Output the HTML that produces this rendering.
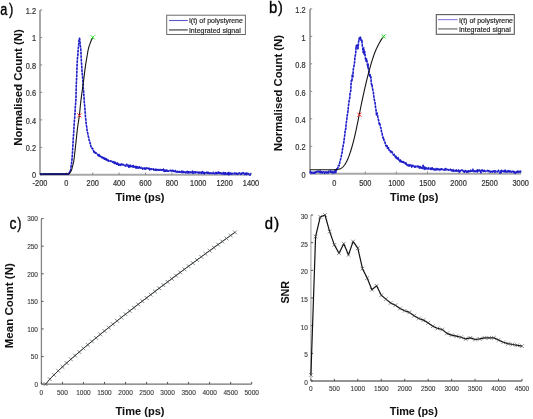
<!DOCTYPE html>
<html><head><meta charset="utf-8"><style>
html,body{margin:0;padding:0;background:#fff;}
body{width:533px;height:419px;overflow:hidden;font-family:"Liberation Sans", sans-serif;}
svg{display:block;filter:blur(0.35px);will-change:transform;}
</style></head><body>
<svg width="533" height="419" viewBox="0 0 533 419" font-family='"Liberation Sans", sans-serif'><path d="M40 10V174.8" stroke="#a8a8a8" stroke-width="2.0" fill="none"/>
<path d="M40 174.8H251" stroke="#a8a8a8" stroke-width="2.0" fill="none"/>
<path d="M40 174.8v-2.2M66.38 174.8v-2.2M92.75 174.8v-2.2M119.12 174.8v-2.2M145.5 174.8v-2.2M171.88 174.8v-2.2M198.25 174.8v-2.2M224.62 174.8v-2.2M251 174.8v-2.2M40 174.8h2.2M40 147.33h2.2M40 119.87h2.2M40 92.4h2.2M40 64.93h2.2M40 37.47h2.2M40 10h2.2" stroke="#888" stroke-width="1" fill="none"/>
<text transform="translate(40 186.1) scale(0.84 1)" text-anchor="middle" font-size="8.8" fill="#333" stroke="#333" stroke-width="0.22">-200</text>
<text transform="translate(66.38 186.1) scale(0.84 1)" text-anchor="middle" font-size="8.8" fill="#333" stroke="#333" stroke-width="0.22">0</text>
<text transform="translate(92.75 186.1) scale(0.84 1)" text-anchor="middle" font-size="8.8" fill="#333" stroke="#333" stroke-width="0.22">200</text>
<text transform="translate(119.12 186.1) scale(0.84 1)" text-anchor="middle" font-size="8.8" fill="#333" stroke="#333" stroke-width="0.22">400</text>
<text transform="translate(145.5 186.1) scale(0.84 1)" text-anchor="middle" font-size="8.8" fill="#333" stroke="#333" stroke-width="0.22">600</text>
<text transform="translate(171.88 186.1) scale(0.84 1)" text-anchor="middle" font-size="8.8" fill="#333" stroke="#333" stroke-width="0.22">800</text>
<text transform="translate(198.25 186.1) scale(0.84 1)" text-anchor="middle" font-size="8.8" fill="#333" stroke="#333" stroke-width="0.22">1000</text>
<text transform="translate(224.62 186.1) scale(0.84 1)" text-anchor="middle" font-size="8.8" fill="#333" stroke="#333" stroke-width="0.22">1200</text>
<text transform="translate(251 186.1) scale(0.84 1)" text-anchor="middle" font-size="8.8" fill="#333" stroke="#333" stroke-width="0.22">1400</text>
<text transform="translate(36 178.47) scale(0.84 1)" text-anchor="end" font-size="8.8" fill="#333" stroke="#333" stroke-width="0.22">0</text>
<text transform="translate(36 151) scale(0.84 1)" text-anchor="end" font-size="8.8" fill="#333" stroke="#333" stroke-width="0.22">0.2</text>
<text transform="translate(36 123.53) scale(0.84 1)" text-anchor="end" font-size="8.8" fill="#333" stroke="#333" stroke-width="0.22">0.4</text>
<text transform="translate(36 96.07) scale(0.84 1)" text-anchor="end" font-size="8.8" fill="#333" stroke="#333" stroke-width="0.22">0.6</text>
<text transform="translate(36 68.6) scale(0.84 1)" text-anchor="end" font-size="8.8" fill="#333" stroke="#333" stroke-width="0.22">0.8</text>
<text transform="translate(36 41.13) scale(0.84 1)" text-anchor="end" font-size="8.8" fill="#333" stroke="#333" stroke-width="0.22">1</text>
<text transform="translate(36 13.67) scale(0.84 1)" text-anchor="end" font-size="8.8" fill="#333" stroke="#333" stroke-width="0.22">1.2</text>
<path d="M40,174.2 40.26,174.2 40.53,174.19 40.79,174.19 41.05,174.18 41.32,174.18 41.58,174.17 41.85,174.16 42.11,174.16 42.37,174.15 42.64,174.15 42.9,174.15 43.16,174.14 43.43,174.14 43.69,174.13 43.96,174.13 44.22,174.12 44.48,174.12 44.75,174.11 45.01,174.1 45.27,174.1 45.54,174.09 45.8,174.09 46.07,174.08 46.33,174.08 46.59,174.08 46.86,174.07 47.12,174.07 47.38,174.06 47.65,174.06 47.91,174.05 48.18,174.05 48.44,174.04 48.7,174.04 48.97,174.03 49.23,174.03 49.49,174.02 49.76,174.02 50.02,174.01 50.29,174.01 50.55,174 50.81,174 51.08,173.99 51.34,173.98 51.61,173.98 51.87,173.97 52.13,173.97 52.4,173.97 52.66,173.96 52.92,173.96 53.19,173.95 53.45,173.95 53.72,173.94 53.98,173.94 54.24,173.93 54.51,173.93 54.77,173.92 55.03,173.92 55.3,173.91 55.56,173.91 55.83,173.9 56.09,173.9 56.35,173.89 56.62,173.88 56.88,173.88 57.14,173.88 57.41,173.88 57.67,173.87 57.94,173.86 58.2,173.85 58.46,173.85 58.73,173.85 58.99,173.84 59.25,173.84 59.52,173.83 59.78,173.83 60.05,173.82 60.31,173.82 60.57,173.81 60.84,173.81 61.1,173.8 61.36,173.8 61.63,173.79 61.89,173.79 62.16,173.78 62.42,173.78 62.68,173.78 62.95,173.77 63.21,173.76 63.47,173.76 63.74,173.76 64,173.75 64.27,173.74 64.53,173.73 64.79,173.73 65.06,173.72 65.32,173.72 65.58,173.71 65.85,173.71 66.11,173.7 66.38,173.7 66.64,173.69 66.9,173.7 67.17,173.69 67.43,173.69 67.69,173.68 67.96,173.67 68.22,173.67 68.48,173.66 68.75,173.66 69.01,173.65 69.28,172.26 69.54,173.26 69.8,171.76 70.07,171.2 70.33,169.95 70.59,170.57 70.86,168.24 71.12,166 71.39,164.8 71.65,162.38 71.91,160.12 72.18,157.49 72.44,153.75 72.7,148.03 72.97,144.35 73.23,139.2 73.5,135.54 73.76,130.6 74.02,126.95 74.29,122.41 74.55,119.59 74.81,115.28 75.08,111.71 75.34,106.85 75.61,103.21 75.87,99.48 76.13,91.81 76.4,82.64 76.66,76.62 76.92,68.37 77.19,63.52 77.45,58.52 77.72,56.33 77.98,52.53 78.24,48.87 78.51,46.52 78.77,43.2 79.03,40.61 79.3,38.58 79.56,38.3 79.83,40.6 80.09,42.77 80.35,45.76 80.62,47.44 80.88,50.8 81.15,56.31 81.41,61.2 81.67,65.85 81.94,70.16 82.2,72.46 82.46,75.98 82.73,79.26 82.99,82.68 83.25,87.31 83.52,89.79 83.78,95.15 84.05,97.45 84.31,101.77 84.57,105.01 84.84,107.72 85.1,111.21 85.37,114.85 85.63,118.85 85.89,120.26 86.16,123.2 86.42,125.38 86.68,126.83 86.95,129.68 87.21,130.5 87.47,132.62 87.74,133.04 88,134.98 88.27,136.13 88.53,136.97 88.79,138.01 89.06,139.67 89.32,140.33 89.58,141.26 89.85,141.31 90.11,143.54 90.38,143.29 90.64,145.2 90.9,146.03 91.17,147.12 91.43,147.57 91.69,147.35 91.96,147.73 92.22,148.74 92.49,148.87 92.75,148.59 93.01,149.65 93.28,150.39 93.54,150.81 93.81,151.7 94.07,150.84 94.33,152.57 94.6,151.88 94.86,152.51 95.12,152.15 95.39,152.87 95.65,153.27 95.92,152.75 96.18,153.39 96.44,153.47 96.71,153.62 96.97,153.93 97.23,154.2 97.5,154.63 97.76,154.48 98.03,155.48 98.29,154.75 98.55,155.48 98.82,154.51 99.08,154.63 99.34,156.27 99.61,155.47 99.87,155.87 100.13,156.63 100.4,156.1 100.66,156.75 100.93,157.33 101.19,156.74 101.45,156.83 101.72,156.93 101.98,157.67 102.25,156.84 102.51,156.94 102.77,158.07 103.04,158.1 103.3,158.03 103.56,158.42 103.83,157.47 104.09,158.35 104.36,159.21 104.62,159.37 104.88,159.31 105.15,158.31 105.41,159.49 105.67,159.34 105.94,159.36 106.2,159.89 106.47,158.89 106.73,160.25 106.99,159.72 107.26,160.08 107.52,159.97 107.78,160.78 108.05,159.51 108.31,160.47 108.58,160.54 108.84,161.17 109.1,161.23 109.37,160.76 109.63,160.56 109.89,160.8 110.16,160.73 110.42,161.06 110.69,161.38 110.95,160.94 111.21,161.13 111.48,161.69 111.74,161.5 112,161.4 112.27,161.93 112.53,162.38 112.79,161.93 113.06,161.44 113.32,162.49 113.59,162.52 113.85,162.6 114.11,162 114.38,163.51 114.64,162.56 114.91,162.25 115.17,163.33 115.43,162.39 115.7,162.9 115.96,163.56 116.22,163.31 116.49,164.26 116.75,163.9 117.02,162.8 117.28,164.18 117.54,162.93 117.81,163.97 118.07,163.55 118.33,164.02 118.6,165.23 118.86,164.56 119.12,164.22 119.39,164.83 119.65,165 119.92,164.33 120.18,164.87 120.44,165.37 120.71,164.86 120.97,164.16 121.23,164.79 121.5,164.22 121.76,163.96 122.03,164.67 122.29,165.25 122.55,165.36 122.82,164.83 123.08,164.38 123.34,164.77 123.61,164.76 123.87,165.34 124.14,164.99 124.4,165.33 124.66,165.23 124.93,165.73 125.19,165.91 125.46,165.49 125.72,165.91 125.98,165.91 126.25,165.14 126.51,165.51 126.77,164.17 127.04,165.2 127.3,166.05 127.56,165.36 127.83,165.62 128.09,166.12 128.36,165.3 128.62,166.2 128.88,167.29 129.15,165.54 129.41,166.33 129.68,165.38 129.94,166.37 130.2,166.55 130.47,165.31 130.73,166.64 130.99,166.11 131.26,165.61 131.52,166.33 131.78,166.46 132.05,166.39 132.31,166 132.58,166.9 132.84,166.26 133.1,166.34 133.37,165.52 133.63,166.86 133.89,167.26 134.16,166.52 134.42,167.02 134.69,166.69 134.95,166.77 135.21,166.38 135.48,167.28 135.74,167.07 136,168.3 136.27,167.59 136.53,166.47 136.8,167.52 137.06,167.56 137.32,167.84 137.59,167 137.85,167.26 138.12,168.01 138.38,167.19 138.64,167.4 138.91,167.17 139.17,167.9 139.43,166.83 139.7,167.49 139.96,167.81 140.22,168.01 140.49,167.97 140.75,167.5 141.02,168.1 141.28,167.48 141.54,167.73 141.81,167.41 142.07,167.71 142.33,168.18 142.6,169.12 142.86,168.13 143.13,167.98 143.39,168.33 143.65,168.16 143.92,168.66 144.18,168.62 144.44,168.91 144.71,167.82 144.97,168.43 145.24,168.78 145.5,169.21 145.76,168.68 146.03,167.94 146.29,168.47 146.56,169.06 146.82,168.04 147.08,168.05 147.35,168.3 147.61,168.41 147.87,168.29 148.14,168.61 148.4,168.54 148.67,169.29 148.93,168.27 149.19,168.89 149.46,168.04 149.72,169.97 149.98,168.68 150.25,168.59 150.51,169.28 150.78,168.94 151.04,168.84 151.3,168.93 151.57,169.46 151.83,169.3 152.09,168.75 152.36,168.7 152.62,169.29 152.88,169.34 153.15,169.25 153.41,168.87 153.68,169.94 153.94,170.11 154.2,169.43 154.47,170.02 154.73,169.83 155,169.54 155.26,169.35 155.52,170.09 155.79,169.23 156.05,170.45 156.31,169.38 156.58,170.4 156.84,170.31 157.11,169.41 157.37,169.89 157.63,170.1 157.9,169.96 158.16,169.6 158.42,169.9 158.69,169.91 158.95,169.4 159.21,170.27 159.48,170.15 159.74,170.21 160.01,169.42 160.27,169.54 160.53,169.45 160.8,170.12 161.06,170.21 161.32,169.72 161.59,170.33 161.85,169.77 162.12,169.86 162.38,170.56 162.64,170.32 162.91,170.38 163.17,169.5 163.44,169.11 163.7,170.4 163.96,170.37 164.23,171.46 164.49,170.29 164.75,170.45 165.02,171 165.28,170.14 165.54,171.28 165.81,170.65 166.07,170.49 166.34,171.18 166.6,170.19 166.86,170.09 167.13,171.28 167.39,171.35 167.66,170.42 167.92,170.79 168.18,171.37 168.45,170.96 168.71,170.89 168.97,170.92 169.24,170.47 169.5,170.71 169.76,170.08 170.03,170.3 170.29,170.63 170.56,170.45 170.82,170.38 171.08,170.73 171.35,171.68 171.61,170.67 171.88,171.05 172.14,170.32 172.4,171.09 172.67,170.92 172.93,171.04 173.19,170.43 173.46,171.18 173.72,171.42 173.99,171.17 174.25,171.56 174.51,171.28 174.78,171.39 175.04,171.25 175.3,170.51 175.57,171.65 175.83,171.46 176.09,171.58 176.36,171.2 176.62,172.13 176.89,171.91 177.15,171.62 177.41,171.36 177.68,171.66 177.94,171.9 178.21,172.1 178.47,171.5 178.73,171.09 179,171.63 179.26,171.71 179.52,171.62 179.79,172.33 180.05,172.05 180.31,172.02 180.58,171.76 180.84,171.92 181.11,172.51 181.37,171.39 181.63,171.13 181.9,172.06 182.16,171.76 182.43,171.84 182.69,171.61 182.95,172.71 183.22,171.24 183.48,172.24 183.74,171.4 184.01,171.98 184.27,172.22 184.54,172.12 184.8,171.64 185.06,172.49 185.33,172.27 185.59,172.32 185.85,172.93 186.12,171.5 186.38,171.88 186.64,172.16 186.91,171.6 187.17,172.61 187.44,172.21 187.7,171.36 187.96,171.73 188.23,173.25 188.49,173.8 188.75,172.71 189.02,171.73 189.28,172.47 189.55,172.36 189.81,171.97 190.07,172.7 190.34,172.19 190.6,171.92 190.86,172.08 191.13,172.12 191.39,172.62 191.66,172.1 191.92,172.56 192.18,171.72 192.45,171.12 192.71,172.71 192.97,173.42 193.24,172.6 193.5,172.23 193.77,171.92 194.03,171.91 194.29,172.81 194.56,172.82 194.82,171.84 195.09,172.98 195.35,171.94 195.61,172.58 195.88,172.12 196.14,172.16 196.4,172.14 196.67,172.13 196.93,173.03 197.19,172.41 197.46,172.57 197.72,172.43 197.99,172 198.25,172.72 198.51,172.95 198.78,172.97 199.04,172.78 199.31,172.28 199.57,173.05 199.83,172.12 200.1,172.54 200.36,172.78 200.62,173.32 200.89,172.57 201.15,172.37 201.41,173.56 201.68,172.16 201.94,171.94 202.21,172.57 202.47,172.51 202.73,171.61 203,172.18 203.26,173.21 203.53,172.8 203.79,172.88 204.05,172.89 204.32,173.97 204.58,172.48 204.84,173.15 205.11,172.77 205.37,172.92 205.64,172.46 205.9,173.03 206.16,173.28 206.43,172.66 206.69,172.25 206.95,173.08 207.22,172.27 207.48,172.82 207.75,173.22 208.01,172.25 208.27,173.39 208.54,172.51 208.8,173.26 209.06,172.81 209.33,173.63 209.59,173.45 209.86,172.54 210.12,172.96 210.38,173.04 210.65,173.28 210.91,172.86 211.17,173.76 211.44,173.63 211.7,173.19 211.96,173.51 212.23,173.46 212.49,173.16 212.76,173.2 213.02,173.24 213.28,172.34 213.55,172.66 213.81,172.55 214.07,173.16 214.34,173.4 214.6,173.86 214.87,173.34 215.13,174.18 215.39,173.45 215.66,172.81 215.92,172.4 216.19,172.73 216.45,173.61 216.71,172.96 216.98,173.59 217.24,172.83 217.5,173.28 217.77,172.82 218.03,171.99 218.29,172.78 218.56,172.11 218.82,173.15 219.09,173.4 219.35,172.6 219.61,172.42 219.88,173.52 220.14,173.21 220.41,173.94 220.67,173.35 220.93,172.84 221.2,173.31 221.46,173.55 221.72,173.95 221.99,173.1 222.25,172.9 222.51,173 222.78,173.18 223.04,173.92 223.31,172.47 223.57,173.34 223.83,173.39 224.1,172.97 224.36,174.37 224.62,173.37 224.89,173.4 225.15,173.16 225.42,172.7 225.68,173.12 225.94,174.24 226.21,173.53 226.47,173.27 226.74,173.3 227,173.98 227.26,174.17 227.53,173.12 227.79,173.22 228.05,173.41 228.32,174.22 228.58,172.55 228.84,174.79 229.11,173.58 229.37,172.41 229.64,173.49 229.9,173.31 230.16,173.99 230.43,172.78 230.69,174.05 230.96,173.32 231.22,173.38 231.48,173.96 231.75,173.03 232.01,174.14 232.27,173.79 232.54,173.48 232.8,173.67 233.06,173.25 233.33,173.04 233.59,173.62 233.86,173.75 234.12,173.75 234.38,173.68 234.65,173.11 234.91,173.61 235.18,173.32 235.44,173.57 235.7,173.93 235.97,173.12 236.23,174.04 236.49,173.54 236.76,172.83 237.02,174.07 237.29,173.57 237.55,174.31 237.81,173.8 238.08,174.27 238.34,173.74 238.6,173.83 238.87,173.52 239.13,172.82 239.39,173.45 239.66,173.27 239.92,173.62 240.19,173.72 240.45,174.01 240.71,174.47 240.98,173.58 241.24,172.84 241.5,173.39 241.77,173.88 242.03,172.84 242.3,173.84 242.56,173.93 242.82,174.22 243.09,174.11 243.35,173.77 243.61,172.71 243.88,173.77 244.14,174.17 244.41,173.97 244.67,173.78 244.93,174.5 245.2,173.63 245.46,173.36 245.72,173.55 245.99,173.42 246.25,174.33 246.52,174.53 246.78,173.1 247.04,173.2 247.31,174.46 247.57,173.63 247.84,173.73 248.1,173.48 248.36,173.64 248.63,173.99 248.89,173.66 249.15,173.68 249.42,173.78 249.68,174.65 249.94,175.2 250.21,174.15 250.47,174.57 250.74,173.67 251,173.45" stroke="#8c8ce6" stroke-width="1.3" fill="none" stroke-linejoin="round" />
<path d="M40,174.2 40.26,174.2 40.53,174.19 40.79,174.19 41.05,174.18 41.32,174.18 41.58,174.17 41.85,174.16 42.11,174.16 42.37,174.15 42.64,174.15 42.9,174.15 43.16,174.14 43.43,174.14 43.69,174.13 43.96,174.13 44.22,174.12 44.48,174.12 44.75,174.11 45.01,174.1 45.27,174.1 45.54,174.09 45.8,174.09 46.07,174.08 46.33,174.08 46.59,174.08 46.86,174.07 47.12,174.07 47.38,174.06 47.65,174.06 47.91,174.05 48.18,174.05 48.44,174.04 48.7,174.04 48.97,174.03 49.23,174.03 49.49,174.02 49.76,174.02 50.02,174.01 50.29,174.01 50.55,174 50.81,174 51.08,173.99 51.34,173.98 51.61,173.98 51.87,173.97 52.13,173.97 52.4,173.97 52.66,173.96 52.92,173.96 53.19,173.95 53.45,173.95 53.72,173.94 53.98,173.94 54.24,173.93 54.51,173.93 54.77,173.92 55.03,173.92 55.3,173.91 55.56,173.91 55.83,173.9 56.09,173.9 56.35,173.89 56.62,173.88 56.88,173.88 57.14,173.88 57.41,173.88 57.67,173.87 57.94,173.86 58.2,173.85 58.46,173.85 58.73,173.85 58.99,173.84 59.25,173.84 59.52,173.83 59.78,173.83 60.05,173.82 60.31,173.82 60.57,173.81 60.84,173.81 61.1,173.8 61.36,173.8 61.63,173.79 61.89,173.79 62.16,173.78 62.42,173.78 62.68,173.78 62.95,173.77 63.21,173.76 63.47,173.76 63.74,173.76 64,173.75 64.27,173.74 64.53,173.73 64.79,173.73 65.06,173.72 65.32,173.72 65.58,173.71 65.85,173.71 66.11,173.7 66.38,173.7 66.64,173.69 66.9,173.7 67.17,173.69 67.43,173.69 67.69,173.68 67.96,173.67 68.22,173.67 68.48,173.66 68.75,173.66 69.01,173.65 69.28,172.26 69.54,173.26 69.8,171.76 70.07,171.2 70.33,169.95 70.59,170.57 70.86,168.24 71.12,166 71.39,164.8 71.65,162.38 71.91,160.12 72.18,157.49 72.44,153.75 72.7,148.03 72.97,144.35 73.23,139.2 73.5,135.54 73.76,130.6 74.02,126.95 74.29,122.41 74.55,119.59 74.81,115.28 75.08,111.71 75.34,106.85 75.61,103.21 75.87,99.48 76.13,91.81 76.4,82.64 76.66,76.62 76.92,68.37 77.19,63.52 77.45,58.52 77.72,56.33 77.98,52.53 78.24,48.87 78.51,46.52 78.77,43.2 79.03,40.61 79.3,38.58 79.56,38.3 79.83,40.6 80.09,42.77 80.35,45.76 80.62,47.44 80.88,50.8 81.15,56.31 81.41,61.2 81.67,65.85 81.94,70.16 82.2,72.46 82.46,75.98 82.73,79.26 82.99,82.68 83.25,87.31 83.52,89.79 83.78,95.15 84.05,97.45 84.31,101.77 84.57,105.01 84.84,107.72 85.1,111.21 85.37,114.85 85.63,118.85 85.89,120.26 86.16,123.2 86.42,125.38 86.68,126.83 86.95,129.68 87.21,130.5 87.47,132.62 87.74,133.04 88,134.98 88.27,136.13 88.53,136.97 88.79,138.01 89.06,139.67 89.32,140.33 89.58,141.26 89.85,141.31 90.11,143.54 90.38,143.29 90.64,145.2 90.9,146.03 91.17,147.12 91.43,147.57 91.69,147.35 91.96,147.73 92.22,148.74 92.49,148.87 92.75,148.59 93.01,149.65 93.28,150.39 93.54,150.81 93.81,151.7 94.07,150.84 94.33,152.57 94.6,151.88 94.86,152.51 95.12,152.15 95.39,152.87 95.65,153.27 95.92,152.75 96.18,153.39 96.44,153.47 96.71,153.62 96.97,153.93 97.23,154.2 97.5,154.63 97.76,154.48 98.03,155.48 98.29,154.75 98.55,155.48 98.82,154.51 99.08,154.63 99.34,156.27 99.61,155.47 99.87,155.87 100.13,156.63 100.4,156.1 100.66,156.75 100.93,157.33 101.19,156.74 101.45,156.83 101.72,156.93 101.98,157.67 102.25,156.84 102.51,156.94 102.77,158.07 103.04,158.1 103.3,158.03 103.56,158.42 103.83,157.47 104.09,158.35 104.36,159.21 104.62,159.37 104.88,159.31 105.15,158.31 105.41,159.49 105.67,159.34 105.94,159.36 106.2,159.89 106.47,158.89 106.73,160.25 106.99,159.72 107.26,160.08 107.52,159.97 107.78,160.78 108.05,159.51 108.31,160.47 108.58,160.54 108.84,161.17 109.1,161.23 109.37,160.76 109.63,160.56 109.89,160.8 110.16,160.73 110.42,161.06 110.69,161.38 110.95,160.94 111.21,161.13 111.48,161.69 111.74,161.5 112,161.4 112.27,161.93 112.53,162.38 112.79,161.93 113.06,161.44 113.32,162.49 113.59,162.52 113.85,162.6 114.11,162 114.38,163.51 114.64,162.56 114.91,162.25 115.17,163.33 115.43,162.39 115.7,162.9 115.96,163.56 116.22,163.31 116.49,164.26 116.75,163.9 117.02,162.8 117.28,164.18 117.54,162.93 117.81,163.97 118.07,163.55 118.33,164.02 118.6,165.23 118.86,164.56 119.12,164.22 119.39,164.83 119.65,165 119.92,164.33 120.18,164.87 120.44,165.37 120.71,164.86 120.97,164.16 121.23,164.79 121.5,164.22 121.76,163.96 122.03,164.67 122.29,165.25 122.55,165.36 122.82,164.83 123.08,164.38 123.34,164.77 123.61,164.76 123.87,165.34 124.14,164.99 124.4,165.33 124.66,165.23 124.93,165.73 125.19,165.91 125.46,165.49 125.72,165.91 125.98,165.91 126.25,165.14 126.51,165.51 126.77,164.17 127.04,165.2 127.3,166.05 127.56,165.36 127.83,165.62 128.09,166.12 128.36,165.3 128.62,166.2 128.88,167.29 129.15,165.54 129.41,166.33 129.68,165.38 129.94,166.37 130.2,166.55 130.47,165.31 130.73,166.64 130.99,166.11 131.26,165.61 131.52,166.33 131.78,166.46 132.05,166.39 132.31,166 132.58,166.9 132.84,166.26 133.1,166.34 133.37,165.52 133.63,166.86 133.89,167.26 134.16,166.52 134.42,167.02 134.69,166.69 134.95,166.77 135.21,166.38 135.48,167.28 135.74,167.07 136,168.3 136.27,167.59 136.53,166.47 136.8,167.52 137.06,167.56 137.32,167.84 137.59,167 137.85,167.26 138.12,168.01 138.38,167.19 138.64,167.4 138.91,167.17 139.17,167.9 139.43,166.83 139.7,167.49 139.96,167.81 140.22,168.01 140.49,167.97 140.75,167.5 141.02,168.1 141.28,167.48 141.54,167.73 141.81,167.41 142.07,167.71 142.33,168.18 142.6,169.12 142.86,168.13 143.13,167.98 143.39,168.33 143.65,168.16 143.92,168.66 144.18,168.62 144.44,168.91 144.71,167.82 144.97,168.43 145.24,168.78 145.5,169.21 145.76,168.68 146.03,167.94 146.29,168.47 146.56,169.06 146.82,168.04 147.08,168.05 147.35,168.3 147.61,168.41 147.87,168.29 148.14,168.61 148.4,168.54 148.67,169.29 148.93,168.27 149.19,168.89 149.46,168.04 149.72,169.97 149.98,168.68 150.25,168.59 150.51,169.28 150.78,168.94 151.04,168.84 151.3,168.93 151.57,169.46 151.83,169.3 152.09,168.75 152.36,168.7 152.62,169.29 152.88,169.34 153.15,169.25 153.41,168.87 153.68,169.94 153.94,170.11 154.2,169.43 154.47,170.02 154.73,169.83 155,169.54 155.26,169.35 155.52,170.09 155.79,169.23 156.05,170.45 156.31,169.38 156.58,170.4 156.84,170.31 157.11,169.41 157.37,169.89 157.63,170.1 157.9,169.96 158.16,169.6 158.42,169.9 158.69,169.91 158.95,169.4 159.21,170.27 159.48,170.15 159.74,170.21 160.01,169.42 160.27,169.54 160.53,169.45 160.8,170.12 161.06,170.21 161.32,169.72 161.59,170.33 161.85,169.77 162.12,169.86 162.38,170.56 162.64,170.32 162.91,170.38 163.17,169.5 163.44,169.11 163.7,170.4 163.96,170.37 164.23,171.46 164.49,170.29 164.75,170.45 165.02,171 165.28,170.14 165.54,171.28 165.81,170.65 166.07,170.49 166.34,171.18 166.6,170.19 166.86,170.09 167.13,171.28 167.39,171.35 167.66,170.42 167.92,170.79 168.18,171.37 168.45,170.96 168.71,170.89 168.97,170.92 169.24,170.47 169.5,170.71 169.76,170.08 170.03,170.3 170.29,170.63 170.56,170.45 170.82,170.38 171.08,170.73 171.35,171.68 171.61,170.67 171.88,171.05 172.14,170.32 172.4,171.09 172.67,170.92 172.93,171.04 173.19,170.43 173.46,171.18 173.72,171.42 173.99,171.17 174.25,171.56 174.51,171.28 174.78,171.39 175.04,171.25 175.3,170.51 175.57,171.65 175.83,171.46 176.09,171.58 176.36,171.2 176.62,172.13 176.89,171.91 177.15,171.62 177.41,171.36 177.68,171.66 177.94,171.9 178.21,172.1 178.47,171.5 178.73,171.09 179,171.63 179.26,171.71 179.52,171.62 179.79,172.33 180.05,172.05 180.31,172.02 180.58,171.76 180.84,171.92 181.11,172.51 181.37,171.39 181.63,171.13 181.9,172.06 182.16,171.76 182.43,171.84 182.69,171.61 182.95,172.71 183.22,171.24 183.48,172.24 183.74,171.4 184.01,171.98 184.27,172.22 184.54,172.12 184.8,171.64 185.06,172.49 185.33,172.27 185.59,172.32 185.85,172.93 186.12,171.5 186.38,171.88 186.64,172.16 186.91,171.6 187.17,172.61 187.44,172.21 187.7,171.36 187.96,171.73 188.23,173.25 188.49,173.8 188.75,172.71 189.02,171.73 189.28,172.47 189.55,172.36 189.81,171.97 190.07,172.7 190.34,172.19 190.6,171.92 190.86,172.08 191.13,172.12 191.39,172.62 191.66,172.1 191.92,172.56 192.18,171.72 192.45,171.12 192.71,172.71 192.97,173.42 193.24,172.6 193.5,172.23 193.77,171.92 194.03,171.91 194.29,172.81 194.56,172.82 194.82,171.84 195.09,172.98 195.35,171.94 195.61,172.58 195.88,172.12 196.14,172.16 196.4,172.14 196.67,172.13 196.93,173.03 197.19,172.41 197.46,172.57 197.72,172.43 197.99,172 198.25,172.72 198.51,172.95 198.78,172.97 199.04,172.78 199.31,172.28 199.57,173.05 199.83,172.12 200.1,172.54 200.36,172.78 200.62,173.32 200.89,172.57 201.15,172.37 201.41,173.56 201.68,172.16 201.94,171.94 202.21,172.57 202.47,172.51 202.73,171.61 203,172.18 203.26,173.21 203.53,172.8 203.79,172.88 204.05,172.89 204.32,173.97 204.58,172.48 204.84,173.15 205.11,172.77 205.37,172.92 205.64,172.46 205.9,173.03 206.16,173.28 206.43,172.66 206.69,172.25 206.95,173.08 207.22,172.27 207.48,172.82 207.75,173.22 208.01,172.25 208.27,173.39 208.54,172.51 208.8,173.26 209.06,172.81 209.33,173.63 209.59,173.45 209.86,172.54 210.12,172.96 210.38,173.04 210.65,173.28 210.91,172.86 211.17,173.76 211.44,173.63 211.7,173.19 211.96,173.51 212.23,173.46 212.49,173.16 212.76,173.2 213.02,173.24 213.28,172.34 213.55,172.66 213.81,172.55 214.07,173.16 214.34,173.4 214.6,173.86 214.87,173.34 215.13,174.18 215.39,173.45 215.66,172.81 215.92,172.4 216.19,172.73 216.45,173.61 216.71,172.96 216.98,173.59 217.24,172.83 217.5,173.28 217.77,172.82 218.03,171.99 218.29,172.78 218.56,172.11 218.82,173.15 219.09,173.4 219.35,172.6 219.61,172.42 219.88,173.52 220.14,173.21 220.41,173.94 220.67,173.35 220.93,172.84 221.2,173.31 221.46,173.55 221.72,173.95 221.99,173.1 222.25,172.9 222.51,173 222.78,173.18 223.04,173.92 223.31,172.47 223.57,173.34 223.83,173.39 224.1,172.97 224.36,174.37 224.62,173.37 224.89,173.4 225.15,173.16 225.42,172.7 225.68,173.12 225.94,174.24 226.21,173.53 226.47,173.27 226.74,173.3 227,173.98 227.26,174.17 227.53,173.12 227.79,173.22 228.05,173.41 228.32,174.22 228.58,172.55 228.84,174.79 229.11,173.58 229.37,172.41 229.64,173.49 229.9,173.31 230.16,173.99 230.43,172.78 230.69,174.05 230.96,173.32 231.22,173.38 231.48,173.96 231.75,173.03 232.01,174.14 232.27,173.79 232.54,173.48 232.8,173.67 233.06,173.25 233.33,173.04 233.59,173.62 233.86,173.75 234.12,173.75 234.38,173.68 234.65,173.11 234.91,173.61 235.18,173.32 235.44,173.57 235.7,173.93 235.97,173.12 236.23,174.04 236.49,173.54 236.76,172.83 237.02,174.07 237.29,173.57 237.55,174.31 237.81,173.8 238.08,174.27 238.34,173.74 238.6,173.83 238.87,173.52 239.13,172.82 239.39,173.45 239.66,173.27 239.92,173.62 240.19,173.72 240.45,174.01 240.71,174.47 240.98,173.58 241.24,172.84 241.5,173.39 241.77,173.88 242.03,172.84 242.3,173.84 242.56,173.93 242.82,174.22 243.09,174.11 243.35,173.77 243.61,172.71 243.88,173.77 244.14,174.17 244.41,173.97 244.67,173.78 244.93,174.5 245.2,173.63 245.46,173.36 245.72,173.55 245.99,173.42 246.25,174.33 246.52,174.53 246.78,173.1 247.04,173.2 247.31,174.46 247.57,173.63 247.84,173.73 248.1,173.48 248.36,173.64 248.63,173.99 248.89,173.66 249.15,173.68 249.42,173.78 249.68,174.65 249.94,175.2 250.21,174.15 250.47,174.57 250.74,173.67 251,173.45" stroke="#1c1cc8" stroke-width="1.5" fill="none" stroke-linejoin="round" stroke-dasharray="2.4 1.1"/>
<path d="M40,174.2 40.26,174.2 40.53,174.2 40.79,174.19 41.05,174.19 41.32,174.19 41.58,174.19 41.85,174.18 42.11,174.18 42.37,174.18 42.64,174.18 42.9,174.17 43.16,174.17 43.43,174.17 43.69,174.17 43.96,174.16 44.22,174.16 44.48,174.16 44.75,174.16 45.01,174.15 45.27,174.15 45.54,174.15 45.8,174.15 46.07,174.14 46.33,174.14 46.59,174.14 46.86,174.14 47.12,174.13 47.38,174.13 47.65,174.13 47.91,174.13 48.18,174.12 48.44,174.12 48.7,174.12 48.97,174.12 49.23,174.11 49.49,174.11 49.76,174.11 50.02,174.11 50.29,174.1 50.55,174.1 50.81,174.1 51.08,174.1 51.34,174.09 51.61,174.09 51.87,174.09 52.13,174.09 52.4,174.08 52.66,174.08 52.92,174.08 53.19,174.08 53.45,174.07 53.72,174.07 53.98,174.07 54.24,174.07 54.51,174.06 54.77,174.06 55.03,174.06 55.3,174.06 55.56,174.05 55.83,174.05 56.09,174.05 56.35,174.05 56.62,174.04 56.88,174.04 57.14,174.04 57.41,174.04 57.67,174.03 57.94,174.03 58.2,174.03 58.46,174.03 58.73,174.02 58.99,174.02 59.25,174.02 59.52,174.02 59.78,174.01 60.05,174.01 60.31,174.01 60.57,174.01 60.84,174 61.1,174 61.36,174 61.63,174 61.89,173.99 62.16,173.99 62.42,173.99 62.68,173.99 62.95,173.98 63.21,173.98 63.47,173.98 63.74,173.98 64,173.97 64.27,173.97 64.53,173.97 64.79,173.97 65.06,173.96 65.32,173.96 65.58,173.96 65.85,173.96 66.11,173.95 66.38,173.95 66.64,173.95 66.9,173.95 67.17,173.94 67.43,173.94 67.69,173.94 67.96,173.94 68.22,173.93 68.48,173.93 68.75,173.86 69.01,173.72 69.28,173.51 69.54,173.23 69.8,172.88 70.07,172.53 70.33,172.18 70.59,171.83 70.86,171.48 71.12,171 71.39,170.38 71.65,169.63 71.91,168.74 72.18,167.72 72.44,166.7 72.7,165.69 72.97,164.67 73.23,163.65 73.5,162.38 73.76,160.86 74.02,159.09 74.29,157.06 74.55,154.79 74.81,152.52 75.08,150.22 75.34,147.88 75.61,145.49 75.87,143.06 76.13,140.58 76.4,138.09 76.66,135.59 76.92,133.09 77.19,130.75 77.45,128.57 77.72,126.55 77.98,124.69 78.24,123 78.51,121.3 78.77,119.6 79.03,117.8 79.3,115.79 79.56,113.58 79.83,111.15 80.09,108.52 80.35,105.78 80.62,103.22 80.88,100.83 81.15,98.61 81.41,96.57 81.67,94.69 81.94,92.82 82.2,90.95 82.46,89.08 82.73,87.2 82.99,85.3 83.25,83.33 83.52,81.3 83.78,79.21 84.05,77.05 84.31,74.86 84.57,72.67 84.84,70.48 85.1,68.42 85.37,66.49 85.63,64.68 85.89,63.01 86.16,61.46 86.42,59.91 86.68,58.37 86.95,56.82 87.21,55.27 87.47,53.73 87.74,52.18 88,50.71 88.27,49.4 88.53,48.25 88.79,47.25 89.06,46.41 89.32,45.65 89.58,44.89 89.85,44.13 90.11,43.37 90.38,42.63 90.64,41.94 90.9,41.28 91.17,40.67 91.43,40.1 91.69,39.56 91.96,39.01 92.22,38.46 92.49,38.02 92.75,37.7 93.01,37.48" stroke="#151515" stroke-width="1.1" fill="none" stroke-linejoin="round" />
<path d="M40,174.2 69.01,174.2" stroke="#141470" stroke-width="1.7" fill="none" stroke-linejoin="round" />
<path d="M77.43 113.36L81.43 117.36M77.43 117.36L81.43 113.36" stroke="#ff2020" stroke-width="1.0"/>
<path d="M90.75 35.37L94.75 39.37M90.75 39.37L94.75 35.37" stroke="#20e020" stroke-width="1.0"/>
<rect x="166.7" y="15.2" width="78.7" height="19.3" fill="#fff" stroke="#6a6a6a" stroke-width="1"/>
<path d="M169 20.5H187.8" stroke="#5e56c8" stroke-width="1.1"/>
<path d="M169 29.9H187.8" stroke="#6a6a6a" stroke-width="1.5"/>
<text x="188.9" y="23.3" font-size="7" font-weight="normal" text-anchor="start" fill="#1a1a1a" stroke="#1a1a1a" stroke-width="0.15" textLength="54" lengthAdjust="spacingAndGlyphs">I(t) of polystyrene</text>
<text x="188.9" y="32.8" font-size="7" font-weight="normal" text-anchor="start" fill="#1a1a1a" stroke="#1a1a1a" stroke-width="0.15" textLength="51.8" lengthAdjust="spacingAndGlyphs">Integrated signal</text>
<path d="M310 8.9V173.8" stroke="#a8a8a8" stroke-width="2.0" fill="none"/>
<path d="M310 173.8H520.7" stroke="#a8a8a8" stroke-width="2.0" fill="none"/>
<path d="M334.24 173.8v-2.2M365.32 173.8v-2.2M396.39 173.8v-2.2M427.47 173.8v-2.2M458.55 173.8v-2.2M489.62 173.8v-2.2M520.7 173.8v-2.2M310 173.8h2.2M310 146.32h2.2M310 118.83h2.2M310 91.35h2.2M310 63.87h2.2M310 36.38h2.2M310 8.9h2.2" stroke="#888" stroke-width="1" fill="none"/>
<text transform="translate(334.24 185.6) scale(0.84 1)" text-anchor="middle" font-size="8.8" fill="#333" stroke="#333" stroke-width="0.22">0</text>
<text transform="translate(365.32 185.6) scale(0.84 1)" text-anchor="middle" font-size="8.8" fill="#333" stroke="#333" stroke-width="0.22">500</text>
<text transform="translate(396.39 185.6) scale(0.84 1)" text-anchor="middle" font-size="8.8" fill="#333" stroke="#333" stroke-width="0.22">1000</text>
<text transform="translate(427.47 185.6) scale(0.84 1)" text-anchor="middle" font-size="8.8" fill="#333" stroke="#333" stroke-width="0.22">1500</text>
<text transform="translate(458.55 185.6) scale(0.84 1)" text-anchor="middle" font-size="8.8" fill="#333" stroke="#333" stroke-width="0.22">2000</text>
<text transform="translate(489.62 185.6) scale(0.84 1)" text-anchor="middle" font-size="8.8" fill="#333" stroke="#333" stroke-width="0.22">2500</text>
<text transform="translate(520.7 185.6) scale(0.84 1)" text-anchor="middle" font-size="8.8" fill="#333" stroke="#333" stroke-width="0.22">3000</text>
<text transform="translate(305.6 177.97) scale(0.84 1)" text-anchor="end" font-size="8.8" fill="#333" stroke="#333" stroke-width="0.22">0</text>
<text transform="translate(305.6 150.48) scale(0.84 1)" text-anchor="end" font-size="8.8" fill="#333" stroke="#333" stroke-width="0.22">0.2</text>
<text transform="translate(305.6 123) scale(0.84 1)" text-anchor="end" font-size="8.8" fill="#333" stroke="#333" stroke-width="0.22">0.4</text>
<text transform="translate(305.6 95.52) scale(0.84 1)" text-anchor="end" font-size="8.8" fill="#333" stroke="#333" stroke-width="0.22">0.6</text>
<text transform="translate(305.6 68.03) scale(0.84 1)" text-anchor="end" font-size="8.8" fill="#333" stroke="#333" stroke-width="0.22">0.8</text>
<text transform="translate(305.6 40.55) scale(0.84 1)" text-anchor="end" font-size="8.8" fill="#333" stroke="#333" stroke-width="0.22">1</text>
<text transform="translate(305.6 13.07) scale(0.84 1)" text-anchor="end" font-size="8.8" fill="#333" stroke="#333" stroke-width="0.22">1.2</text>
<path d="M310,171.42 310.31,171.26 310.62,173.85 310.93,172.75 311.24,172.5 311.55,172.93 311.86,172.17 312.18,172.26 312.49,172.61 312.8,172.3 313.11,173.27 313.42,172.88 313.73,172.84 314.04,171.73 314.35,173.29 314.66,172.42 314.97,171.81 315.28,172.32 315.59,171.78 315.9,172.69 316.22,172.02 316.53,171.73 316.84,170.91 317.15,171.84 317.46,171.4 317.77,172.28 318.08,172.23 318.39,171.32 318.7,171.92 319.01,171.41 319.32,171.84 319.63,170.96 319.94,170.81 320.26,172.8 320.57,171.13 320.88,172.01 321.19,171.98 321.5,172.34 321.81,171.83 322.12,172.97 322.43,172.72 322.74,172.75 323.05,172.1 323.36,171.7 323.67,171.81 323.98,172.05 324.3,172.64 324.61,173.36 324.92,172.02 325.23,172.18 325.54,172.05 325.85,171.39 326.16,172.39 326.47,172.4 326.78,173.71 327.09,171.93 327.4,172.3 327.71,172.73 328.02,172.04 328.34,172.92 328.65,172.6 328.96,171.06 329.27,171.8 329.58,171.7 329.89,171.81 330.2,171.87 330.51,172.15 330.82,170.85 331.13,172.32 331.44,171.82 331.75,172.41 332.06,172.49 332.38,173.79 332.69,173.46 333,171.32 333.31,171.36 333.62,172.54 333.93,172.29 334.24,171.9 334.55,172.61 334.86,170.63 335.17,172.09 335.48,171.61 335.79,172.61 336.1,169.69 336.42,170.31 336.73,168.82 337.04,169.89 337.35,168.52 337.66,168.16 337.97,167.55 338.28,165.92 338.59,165.29 338.9,165.26 339.21,165.78 339.52,163.5 339.83,161.82 340.14,161 340.46,159.68 340.77,158.33 341.08,157.66 341.39,155.76 341.7,153.43 342.01,153.24 342.32,150.56 342.63,148.23 342.94,147.84 343.25,144.8 343.56,143.94 343.87,141.39 344.18,139.73 344.5,136.93 344.81,134.12 345.12,131.44 345.43,129.36 345.74,129.51 346.05,124.43 346.36,122.48 346.67,120.55 346.98,117.46 347.29,115.23 347.6,113.85 347.91,111.22 348.22,109.18 348.54,104.84 348.85,103.29 349.16,100.38 349.47,98.99 349.78,97.61 350.09,92.94 350.4,91.8 350.71,91.14 351.02,84.02 351.33,80.38 351.64,81.64 351.95,81.02 352.26,75.08 352.58,76.61 352.89,76.8 353.2,70.83 353.51,67.97 353.82,66.61 354.13,65.43 354.44,64.18 354.75,59.08 355.06,56.54 355.37,55.49 355.68,52.58 355.99,47.69 356.3,45.62 356.62,47.91 356.93,46.5 357.24,44.31 357.55,46.66 357.86,48.88 358.17,47.77 358.48,43.04 358.79,39.94 359.1,40.3 359.41,37.07 359.72,37.07 360.03,37.07 360.34,39.88 360.66,37.53 360.97,40.07 361.28,40.48 361.59,40.51 361.9,39.74 362.21,44.68 362.52,46.75 362.83,49.85 363.14,52.48 363.45,48.33 363.76,47.94 364.07,53.83 364.38,54.31 364.69,51.52 365.01,54.8 365.32,57.02 365.63,59.97 365.94,60.98 366.25,60.35 366.56,58.94 366.87,61.37 367.18,62.23 367.49,65.3 367.8,67.05 368.11,63.68 368.42,68.46 368.73,71.33 369.05,71.61 369.36,74.91 369.67,76.11 369.98,74.49 370.29,76.14 370.6,77.89 370.91,77.07 371.22,81.86 371.53,84.77 371.84,84.08 372.15,85.58 372.46,88.29 372.77,89.84 373.09,91.05 373.4,92.31 373.71,96.08 374.02,97.76 374.33,99.3 374.64,101.43 374.95,102.04 375.26,104.39 375.57,107.87 375.88,108.86 376.19,111.78 376.5,114.84 376.81,112.94 377.13,112.97 377.44,114.45 377.75,116.83 378.06,118.09 378.37,119.21 378.68,121.02 378.99,122.51 379.3,124.3 379.61,125.04 379.92,123.89 380.23,125.16 380.54,127.52 380.85,127.68 381.17,129.18 381.48,131.77 381.79,132.62 382.1,132.7 382.41,135.61 382.72,136.23 383.03,138.09 383.34,137.38 383.65,138.54 383.96,140.1 384.27,140.61 384.58,140.77 384.89,141.99 385.21,143.21 385.52,144.19 385.83,145.79 386.14,145.35 386.45,146.12 386.76,146.95 387.07,145.61 387.38,148.3 387.69,147.78 388,147.97 388.31,148.21 388.62,147.58 388.93,149.88 389.25,150.13 389.56,150.34 389.87,150.78 390.18,151.44 390.49,152.04 390.8,151.08 391.11,152.56 391.42,152.53 391.73,151.7 392.04,151.9 392.35,152.6 392.66,154.08 392.97,154.53 393.29,154.61 393.6,155.09 393.91,155.01 394.22,154.17 394.53,155.01 394.84,155.9 395.15,156.55 395.46,157.18 395.77,155.8 396.08,158 396.39,156.85 396.7,158.1 397.01,158.09 397.33,158.89 397.64,157.79 397.95,158.78 398.26,157.13 398.57,159.6 398.88,160.05 399.19,159.39 399.5,159.7 399.81,160.37 400.12,161.72 400.43,159.9 400.74,160.74 401.05,160.93 401.37,161.7 401.68,161.28 401.99,162.17 402.3,161.89 402.61,162.16 402.92,161.42 403.23,162.69 403.54,162.76 403.85,161.95 404.16,162.7 404.47,162.93 404.78,163.08 405.09,162.67 405.41,163.9 405.72,163.24 406.03,162.36 406.34,163.49 406.65,164.5 406.96,165.03 407.27,164.29 407.58,165.23 407.89,165.63 408.2,165.27 408.51,165.58 408.82,164.49 409.13,166.04 409.45,164.25 409.76,165.71 410.07,165.25 410.38,164.93 410.69,165.26 411,165.01 411.31,166.14 411.62,166.99 411.93,165.7 412.24,166.76 412.55,166.17 412.86,165.26 413.17,166.07 413.49,166.36 413.8,166.71 414.11,166.3 414.42,166.3 414.73,167.18 415.04,166.09 415.35,167.04 415.66,166.25 415.97,166.74 416.28,165.94 416.59,166.03 416.9,166.6 417.21,166.81 417.53,166.55 417.84,165.98 418.15,166.23 418.46,166.83 418.77,166.77 419.08,166.06 419.39,168.11 419.7,166.8 420.01,167.73 420.32,166.46 420.63,167.64 420.94,167.43 421.25,168.12 421.57,167.52 421.88,167.12 422.19,166.62 422.5,168.46 422.81,167.97 423.12,165.36 423.43,167.27 423.74,167.91 424.05,167.65 424.36,169.7 424.67,167.11 424.98,168.04 425.29,169.07 425.61,167.55 425.92,168.72 426.23,168.99 426.54,168.07 426.85,168.22 427.16,168.83 427.47,168.6 427.78,169.42 428.09,169.54 428.4,168.09 428.71,167.86 429.02,168.44 429.33,168.5 429.65,169 429.96,168.84 430.27,169.36 430.58,167.74 430.89,169.2 431.2,168.6 431.51,168.87 431.82,169.74 432.13,167.68 432.44,169.16 432.75,169.46 433.06,168.94 433.37,169.58 433.69,169 434,169.64 434.31,168.74 434.62,169.08 434.93,169.99 435.24,168.51 435.55,169 435.86,169.85 436.17,168.97 436.48,168.94 436.79,168.11 437.1,169.81 437.41,168.74 437.73,169.35 438.04,168.95 438.35,169.5 438.66,169.39 438.97,169.08 439.28,170.14 439.59,170.74 439.9,169.5 440.21,169.8 440.52,169.47 440.83,169.13 441.14,169.69 441.45,168.85 441.77,169.6 442.08,169.54 442.39,169.13 442.7,169.27 443.01,169.71 443.32,169.62 443.63,170.19 443.94,170.12 444.25,169.69 444.56,169.27 444.87,170.07 445.18,169.3 445.49,168.64 445.81,168.54 446.12,169.88 446.43,169.24 446.74,169.54 447.05,169.44 447.36,169.42 447.67,169.65 447.98,169.48 448.29,169.88 448.6,170.2 448.91,169.92 449.22,169.79 449.53,169.35 449.85,169.89 450.16,169.68 450.47,169.28 450.78,170.78 451.09,170.39 451.4,169.9 451.71,170.26 452.02,170.92 452.33,169.69 452.64,170.38 452.95,170.97 453.26,169.2 453.57,171.2 453.89,170.44 454.2,170.85 454.51,170.37 454.82,170.12 455.13,171.01 455.44,170.6 455.75,170.63 456.06,171.18 456.37,169.86 456.68,170.52 456.99,170.84 457.3,171.08 457.61,170.89 457.93,170.62 458.24,171 458.55,169.95 458.86,172.31 459.17,172.09 459.48,170.92 459.79,171.91 460.1,170.81 460.41,171.18 460.72,170.43 461.03,170.56 461.34,170 461.65,170.24 461.97,170.03 462.28,170.49 462.59,170.17 462.9,170.52 463.21,171.21 463.52,171.61 463.83,171.58 464.14,170.55 464.45,172.33 464.76,170.75 465.07,171.34 465.38,170.42 465.69,170.74 466.01,171.33 466.32,170.87 466.63,172.29 466.94,170.72 467.25,170.62 467.56,172.06 467.87,170.39 468.18,170.99 468.49,170.82 468.8,171.8 469.11,170.56 469.42,170.59 469.73,170.96 470.04,171.58 470.36,170.49 470.67,170.18 470.98,170.72 471.29,170.36 471.6,171.35 471.91,170.88 472.22,170.73 472.53,170.89 472.84,169.23 473.15,170.72 473.46,171.36 473.77,170.51 474.08,171.69 474.4,170.78 474.71,170.53 475.02,171.33 475.33,171.22 475.64,171.61 475.95,170.95 476.26,171.45 476.57,169.97 476.88,170.66 477.19,171.2 477.5,171.94 477.81,169.81 478.12,170.26 478.44,170.77 478.75,170.95 479.06,170.97 479.37,171.36 479.68,169.92 479.99,170.97 480.3,171.99 480.61,171.51 480.92,172.71 481.23,170.7 481.54,170.64 481.85,170.03 482.16,169.83 482.48,171.61 482.79,170.86 483.1,170.54 483.41,170.67 483.72,171.49 484.03,170.68 484.34,170.88 484.65,170.34 484.96,171.2 485.27,171.34 485.58,171.52 485.89,171.44 486.2,171.7 486.52,171.44 486.83,170.91 487.14,170.94 487.45,170.41 487.76,170.56 488.07,170.87 488.38,171.98 488.69,170.89 489,170.53 489.31,172.07 489.62,171.96 489.93,171.86 490.24,171.92 490.56,171.47 490.87,171.87 491.18,171.07 491.49,172.07 491.8,171.41 492.11,171.65 492.42,171.94 492.73,170.7 493.04,171.34 493.35,171.03 493.66,171.58 493.97,170.93 494.28,170.99 494.6,171.47 494.91,172.49 495.22,170.89 495.53,170.97 495.84,171.29 496.15,171.26 496.46,171.33 496.77,171.28 497.08,172.03 497.39,171.46 497.7,171.23 498.01,171.82 498.32,172.04 498.64,170.3 498.95,171.09 499.26,171.66 499.57,171.79 499.88,173.11 500.19,172.36 500.5,171.63 500.81,170.69 501.12,172.77 501.43,171.94 501.74,170.32 502.05,171.09 502.36,171.25 502.68,170.77 502.99,171.6 503.3,171.65 503.61,171.1 503.92,171.02 504.23,172.22 504.54,170.61 504.85,172.63 505.16,172 505.47,169.67 505.78,171.9 506.09,171.17 506.4,172.21 506.72,171.79 507.03,172.04 507.34,171.84 507.65,171.19 507.96,170.53 508.27,171.08 508.58,170.66 508.89,171.93 509.2,170.72 509.51,171.29 509.82,170.79 510.13,171.92 510.44,171.81 510.76,170.82 511.07,171.28 511.38,171.6 511.69,172.1 512,171.75 512.31,171.39 512.62,171.25 512.93,172.06 513.24,171.93 513.55,171.46 513.86,172.41 514.17,171.15 514.48,171.74 514.8,171.83 515.11,173.25 515.42,172.76 515.73,172.43 516.04,172.15 516.35,172.47 516.66,171.57 516.97,171.74 517.28,171.98 517.59,173.07 517.9,170.95 518.21,172 518.52,171.47 518.84,172.27 519.15,171.86 519.46,171.42 519.77,171.71 520.08,171.28 520.39,171.99 520.7,170.64" stroke="#8c8ce6" stroke-width="1.3" fill="none" stroke-linejoin="round" />
<path d="M310,171.42 310.31,171.26 310.62,173.85 310.93,172.75 311.24,172.5 311.55,172.93 311.86,172.17 312.18,172.26 312.49,172.61 312.8,172.3 313.11,173.27 313.42,172.88 313.73,172.84 314.04,171.73 314.35,173.29 314.66,172.42 314.97,171.81 315.28,172.32 315.59,171.78 315.9,172.69 316.22,172.02 316.53,171.73 316.84,170.91 317.15,171.84 317.46,171.4 317.77,172.28 318.08,172.23 318.39,171.32 318.7,171.92 319.01,171.41 319.32,171.84 319.63,170.96 319.94,170.81 320.26,172.8 320.57,171.13 320.88,172.01 321.19,171.98 321.5,172.34 321.81,171.83 322.12,172.97 322.43,172.72 322.74,172.75 323.05,172.1 323.36,171.7 323.67,171.81 323.98,172.05 324.3,172.64 324.61,173.36 324.92,172.02 325.23,172.18 325.54,172.05 325.85,171.39 326.16,172.39 326.47,172.4 326.78,173.71 327.09,171.93 327.4,172.3 327.71,172.73 328.02,172.04 328.34,172.92 328.65,172.6 328.96,171.06 329.27,171.8 329.58,171.7 329.89,171.81 330.2,171.87 330.51,172.15 330.82,170.85 331.13,172.32 331.44,171.82 331.75,172.41 332.06,172.49 332.38,173.79 332.69,173.46 333,171.32 333.31,171.36 333.62,172.54 333.93,172.29 334.24,171.9 334.55,172.61 334.86,170.63 335.17,172.09 335.48,171.61 335.79,172.61 336.1,169.69 336.42,170.31 336.73,168.82 337.04,169.89 337.35,168.52 337.66,168.16 337.97,167.55 338.28,165.92 338.59,165.29 338.9,165.26 339.21,165.78 339.52,163.5 339.83,161.82 340.14,161 340.46,159.68 340.77,158.33 341.08,157.66 341.39,155.76 341.7,153.43 342.01,153.24 342.32,150.56 342.63,148.23 342.94,147.84 343.25,144.8 343.56,143.94 343.87,141.39 344.18,139.73 344.5,136.93 344.81,134.12 345.12,131.44 345.43,129.36 345.74,129.51 346.05,124.43 346.36,122.48 346.67,120.55 346.98,117.46 347.29,115.23 347.6,113.85 347.91,111.22 348.22,109.18 348.54,104.84 348.85,103.29 349.16,100.38 349.47,98.99 349.78,97.61 350.09,92.94 350.4,91.8 350.71,91.14 351.02,84.02 351.33,80.38 351.64,81.64 351.95,81.02 352.26,75.08 352.58,76.61 352.89,76.8 353.2,70.83 353.51,67.97 353.82,66.61 354.13,65.43 354.44,64.18 354.75,59.08 355.06,56.54 355.37,55.49 355.68,52.58 355.99,47.69 356.3,45.62 356.62,47.91 356.93,46.5 357.24,44.31 357.55,46.66 357.86,48.88 358.17,47.77 358.48,43.04 358.79,39.94 359.1,40.3 359.41,37.07 359.72,37.07 360.03,37.07 360.34,39.88 360.66,37.53 360.97,40.07 361.28,40.48 361.59,40.51 361.9,39.74 362.21,44.68 362.52,46.75 362.83,49.85 363.14,52.48 363.45,48.33 363.76,47.94 364.07,53.83 364.38,54.31 364.69,51.52 365.01,54.8 365.32,57.02 365.63,59.97 365.94,60.98 366.25,60.35 366.56,58.94 366.87,61.37 367.18,62.23 367.49,65.3 367.8,67.05 368.11,63.68 368.42,68.46 368.73,71.33 369.05,71.61 369.36,74.91 369.67,76.11 369.98,74.49 370.29,76.14 370.6,77.89 370.91,77.07 371.22,81.86 371.53,84.77 371.84,84.08 372.15,85.58 372.46,88.29 372.77,89.84 373.09,91.05 373.4,92.31 373.71,96.08 374.02,97.76 374.33,99.3 374.64,101.43 374.95,102.04 375.26,104.39 375.57,107.87 375.88,108.86 376.19,111.78 376.5,114.84 376.81,112.94 377.13,112.97 377.44,114.45 377.75,116.83 378.06,118.09 378.37,119.21 378.68,121.02 378.99,122.51 379.3,124.3 379.61,125.04 379.92,123.89 380.23,125.16 380.54,127.52 380.85,127.68 381.17,129.18 381.48,131.77 381.79,132.62 382.1,132.7 382.41,135.61 382.72,136.23 383.03,138.09 383.34,137.38 383.65,138.54 383.96,140.1 384.27,140.61 384.58,140.77 384.89,141.99 385.21,143.21 385.52,144.19 385.83,145.79 386.14,145.35 386.45,146.12 386.76,146.95 387.07,145.61 387.38,148.3 387.69,147.78 388,147.97 388.31,148.21 388.62,147.58 388.93,149.88 389.25,150.13 389.56,150.34 389.87,150.78 390.18,151.44 390.49,152.04 390.8,151.08 391.11,152.56 391.42,152.53 391.73,151.7 392.04,151.9 392.35,152.6 392.66,154.08 392.97,154.53 393.29,154.61 393.6,155.09 393.91,155.01 394.22,154.17 394.53,155.01 394.84,155.9 395.15,156.55 395.46,157.18 395.77,155.8 396.08,158 396.39,156.85 396.7,158.1 397.01,158.09 397.33,158.89 397.64,157.79 397.95,158.78 398.26,157.13 398.57,159.6 398.88,160.05 399.19,159.39 399.5,159.7 399.81,160.37 400.12,161.72 400.43,159.9 400.74,160.74 401.05,160.93 401.37,161.7 401.68,161.28 401.99,162.17 402.3,161.89 402.61,162.16 402.92,161.42 403.23,162.69 403.54,162.76 403.85,161.95 404.16,162.7 404.47,162.93 404.78,163.08 405.09,162.67 405.41,163.9 405.72,163.24 406.03,162.36 406.34,163.49 406.65,164.5 406.96,165.03 407.27,164.29 407.58,165.23 407.89,165.63 408.2,165.27 408.51,165.58 408.82,164.49 409.13,166.04 409.45,164.25 409.76,165.71 410.07,165.25 410.38,164.93 410.69,165.26 411,165.01 411.31,166.14 411.62,166.99 411.93,165.7 412.24,166.76 412.55,166.17 412.86,165.26 413.17,166.07 413.49,166.36 413.8,166.71 414.11,166.3 414.42,166.3 414.73,167.18 415.04,166.09 415.35,167.04 415.66,166.25 415.97,166.74 416.28,165.94 416.59,166.03 416.9,166.6 417.21,166.81 417.53,166.55 417.84,165.98 418.15,166.23 418.46,166.83 418.77,166.77 419.08,166.06 419.39,168.11 419.7,166.8 420.01,167.73 420.32,166.46 420.63,167.64 420.94,167.43 421.25,168.12 421.57,167.52 421.88,167.12 422.19,166.62 422.5,168.46 422.81,167.97 423.12,165.36 423.43,167.27 423.74,167.91 424.05,167.65 424.36,169.7 424.67,167.11 424.98,168.04 425.29,169.07 425.61,167.55 425.92,168.72 426.23,168.99 426.54,168.07 426.85,168.22 427.16,168.83 427.47,168.6 427.78,169.42 428.09,169.54 428.4,168.09 428.71,167.86 429.02,168.44 429.33,168.5 429.65,169 429.96,168.84 430.27,169.36 430.58,167.74 430.89,169.2 431.2,168.6 431.51,168.87 431.82,169.74 432.13,167.68 432.44,169.16 432.75,169.46 433.06,168.94 433.37,169.58 433.69,169 434,169.64 434.31,168.74 434.62,169.08 434.93,169.99 435.24,168.51 435.55,169 435.86,169.85 436.17,168.97 436.48,168.94 436.79,168.11 437.1,169.81 437.41,168.74 437.73,169.35 438.04,168.95 438.35,169.5 438.66,169.39 438.97,169.08 439.28,170.14 439.59,170.74 439.9,169.5 440.21,169.8 440.52,169.47 440.83,169.13 441.14,169.69 441.45,168.85 441.77,169.6 442.08,169.54 442.39,169.13 442.7,169.27 443.01,169.71 443.32,169.62 443.63,170.19 443.94,170.12 444.25,169.69 444.56,169.27 444.87,170.07 445.18,169.3 445.49,168.64 445.81,168.54 446.12,169.88 446.43,169.24 446.74,169.54 447.05,169.44 447.36,169.42 447.67,169.65 447.98,169.48 448.29,169.88 448.6,170.2 448.91,169.92 449.22,169.79 449.53,169.35 449.85,169.89 450.16,169.68 450.47,169.28 450.78,170.78 451.09,170.39 451.4,169.9 451.71,170.26 452.02,170.92 452.33,169.69 452.64,170.38 452.95,170.97 453.26,169.2 453.57,171.2 453.89,170.44 454.2,170.85 454.51,170.37 454.82,170.12 455.13,171.01 455.44,170.6 455.75,170.63 456.06,171.18 456.37,169.86 456.68,170.52 456.99,170.84 457.3,171.08 457.61,170.89 457.93,170.62 458.24,171 458.55,169.95 458.86,172.31 459.17,172.09 459.48,170.92 459.79,171.91 460.1,170.81 460.41,171.18 460.72,170.43 461.03,170.56 461.34,170 461.65,170.24 461.97,170.03 462.28,170.49 462.59,170.17 462.9,170.52 463.21,171.21 463.52,171.61 463.83,171.58 464.14,170.55 464.45,172.33 464.76,170.75 465.07,171.34 465.38,170.42 465.69,170.74 466.01,171.33 466.32,170.87 466.63,172.29 466.94,170.72 467.25,170.62 467.56,172.06 467.87,170.39 468.18,170.99 468.49,170.82 468.8,171.8 469.11,170.56 469.42,170.59 469.73,170.96 470.04,171.58 470.36,170.49 470.67,170.18 470.98,170.72 471.29,170.36 471.6,171.35 471.91,170.88 472.22,170.73 472.53,170.89 472.84,169.23 473.15,170.72 473.46,171.36 473.77,170.51 474.08,171.69 474.4,170.78 474.71,170.53 475.02,171.33 475.33,171.22 475.64,171.61 475.95,170.95 476.26,171.45 476.57,169.97 476.88,170.66 477.19,171.2 477.5,171.94 477.81,169.81 478.12,170.26 478.44,170.77 478.75,170.95 479.06,170.97 479.37,171.36 479.68,169.92 479.99,170.97 480.3,171.99 480.61,171.51 480.92,172.71 481.23,170.7 481.54,170.64 481.85,170.03 482.16,169.83 482.48,171.61 482.79,170.86 483.1,170.54 483.41,170.67 483.72,171.49 484.03,170.68 484.34,170.88 484.65,170.34 484.96,171.2 485.27,171.34 485.58,171.52 485.89,171.44 486.2,171.7 486.52,171.44 486.83,170.91 487.14,170.94 487.45,170.41 487.76,170.56 488.07,170.87 488.38,171.98 488.69,170.89 489,170.53 489.31,172.07 489.62,171.96 489.93,171.86 490.24,171.92 490.56,171.47 490.87,171.87 491.18,171.07 491.49,172.07 491.8,171.41 492.11,171.65 492.42,171.94 492.73,170.7 493.04,171.34 493.35,171.03 493.66,171.58 493.97,170.93 494.28,170.99 494.6,171.47 494.91,172.49 495.22,170.89 495.53,170.97 495.84,171.29 496.15,171.26 496.46,171.33 496.77,171.28 497.08,172.03 497.39,171.46 497.7,171.23 498.01,171.82 498.32,172.04 498.64,170.3 498.95,171.09 499.26,171.66 499.57,171.79 499.88,173.11 500.19,172.36 500.5,171.63 500.81,170.69 501.12,172.77 501.43,171.94 501.74,170.32 502.05,171.09 502.36,171.25 502.68,170.77 502.99,171.6 503.3,171.65 503.61,171.1 503.92,171.02 504.23,172.22 504.54,170.61 504.85,172.63 505.16,172 505.47,169.67 505.78,171.9 506.09,171.17 506.4,172.21 506.72,171.79 507.03,172.04 507.34,171.84 507.65,171.19 507.96,170.53 508.27,171.08 508.58,170.66 508.89,171.93 509.2,170.72 509.51,171.29 509.82,170.79 510.13,171.92 510.44,171.81 510.76,170.82 511.07,171.28 511.38,171.6 511.69,172.1 512,171.75 512.31,171.39 512.62,171.25 512.93,172.06 513.24,171.93 513.55,171.46 513.86,172.41 514.17,171.15 514.48,171.74 514.8,171.83 515.11,173.25 515.42,172.76 515.73,172.43 516.04,172.15 516.35,172.47 516.66,171.57 516.97,171.74 517.28,171.98 517.59,173.07 517.9,170.95 518.21,172 518.52,171.47 518.84,172.27 519.15,171.86 519.46,171.42 519.77,171.71 520.08,171.28 520.39,171.99 520.7,170.64" stroke="#1c1cc8" stroke-width="1.5" fill="none" stroke-linejoin="round" stroke-dasharray="2.4 1.1"/>
<path d="M310,169.68 310.31,169.68 310.62,169.68 310.93,169.68 311.24,169.68 311.55,169.68 311.86,169.68 312.18,169.68 312.49,169.68 312.8,169.68 313.11,169.68 313.42,169.68 313.73,169.68 314.04,169.68 314.35,169.68 314.66,169.68 314.97,169.68 315.28,169.68 315.59,169.68 315.9,169.68 316.22,169.68 316.53,169.68 316.84,169.68 317.15,169.68 317.46,169.68 317.77,169.68 318.08,169.68 318.39,169.68 318.7,169.68 319.01,169.68 319.32,169.68 319.63,169.68 319.94,169.68 320.26,169.68 320.57,169.68 320.88,169.68 321.19,169.68 321.5,169.68 321.81,169.68 322.12,169.68 322.43,169.68 322.74,169.68 323.05,169.68 323.36,169.68 323.67,169.68 323.98,169.68 324.3,169.68 324.61,169.68 324.92,169.68 325.23,169.68 325.54,169.68 325.85,169.68 326.16,169.68 326.47,169.68 326.78,169.68 327.09,169.68 327.4,169.68 327.71,169.68 328.02,169.68 328.34,169.68 328.65,169.68 328.96,169.68 329.27,169.68 329.58,169.68 329.89,169.68 330.2,169.68 330.51,169.68 330.82,169.68 331.13,169.68 331.44,169.68 331.75,169.68 332.06,169.68 332.38,169.68 332.69,169.68 333,169.68 333.31,169.68 333.62,169.68 333.93,169.68 334.24,169.68 334.55,169.67 334.86,169.67 335.17,169.66 335.48,169.65 335.79,169.63 336.1,169.61 336.42,169.59 336.73,169.56 337.04,169.53 337.35,169.48 337.66,169.44 337.97,169.38 338.28,169.33 338.59,169.26 338.9,169.19 339.21,169.11 339.52,169.02 339.83,168.91 340.14,168.78 340.46,168.64 340.77,168.48 341.08,168.3 341.39,168.11 341.7,167.9 342.01,167.68 342.32,167.43 342.63,167.16 342.94,166.87 343.25,166.55 343.56,166.21 343.87,165.84 344.18,165.45 344.5,165.03 344.81,164.59 345.12,164.12 345.43,163.63 345.74,163.11 346.05,162.56 346.36,161.99 346.67,161.39 346.98,160.76 347.29,160.1 347.6,159.42 347.91,158.71 348.22,157.97 348.54,157.2 348.85,156.4 349.16,155.58 349.47,154.72 349.78,153.83 350.09,152.92 350.4,151.97 350.71,151 351.02,150 351.33,148.97 351.64,147.92 351.95,146.84 352.26,145.73 352.58,144.61 352.89,143.46 353.2,142.28 353.51,141.09 353.82,139.86 354.13,138.61 354.44,137.32 354.75,136.01 355.06,134.68 355.37,133.31 355.68,131.92 355.99,130.51 356.3,129.06 356.62,127.59 356.93,126.11 357.24,124.62 357.55,123.11 357.86,121.6 358.17,120.07 358.48,118.54 358.79,116.99 359.1,115.44 359.41,113.88 359.72,112.33 360.03,110.77 360.34,109.21 360.66,107.67 360.97,106.15 361.28,104.64 361.59,103.14 361.9,101.66 362.21,100.19 362.52,98.73 362.83,97.28 363.14,95.85 363.45,94.42 363.76,93.01 364.07,91.61 364.38,90.22 364.69,88.85 365.01,87.49 365.32,86.15 365.63,84.82 365.94,83.5 366.25,82.2 366.56,80.91 366.87,79.64 367.18,78.38 367.49,77.14 367.8,75.91 368.11,74.7 368.42,73.5 368.73,72.31 369.05,71.14 369.36,69.99 369.67,68.85 369.98,67.73 370.29,66.62 370.6,65.54 370.91,64.47 371.22,63.41 371.53,62.38 371.84,61.36 372.15,60.36 372.46,59.37 372.77,58.41 373.09,57.47 373.4,56.54 373.71,55.64 374.02,54.75 374.33,53.88 374.64,53.05 374.95,52.24 375.26,51.46 375.57,50.71 375.88,49.99 376.19,49.3 376.5,48.62 376.81,47.95 377.13,47.3 377.44,46.65 377.75,46.02 378.06,45.4 378.37,44.79 378.68,44.2 378.99,43.61 379.3,43.04 379.61,42.48 379.92,41.93 380.23,41.39 380.54,40.86 380.85,40.34 381.17,39.84 381.48,39.35 381.79,38.88 382.1,38.42 382.41,37.98 382.72,37.56 383.03,37.16 383.34,36.77 383.65,36.38" stroke="#151515" stroke-width="1.1" fill="none" stroke-linejoin="round" />
<path d="M357.41 112.71L361.41 116.71M357.41 116.71L361.41 112.71" stroke="#ff2020" stroke-width="1.0"/>
<path d="M381.65 34.38L385.65 38.38M381.65 38.38L385.65 34.38" stroke="#20e020" stroke-width="1.0"/>
<rect x="436.3" y="14.6" width="78" height="19.7" fill="#fff" stroke="#5a5a5a" stroke-width="1.1"/>
<path d="M438 19.6H457.5" stroke="#9088e0" stroke-width="1.2"/>
<path d="M438 28.9H457.5" stroke="#8a8a8a" stroke-width="1.5"/>
<text x="458.9" y="22.9" font-size="7" font-weight="normal" text-anchor="start" fill="#1a1a1a" stroke="#1a1a1a" stroke-width="0.15" textLength="54.1" lengthAdjust="spacingAndGlyphs">I(t) of polystyrene</text>
<text x="458.9" y="31.8" font-size="7" font-weight="normal" text-anchor="start" fill="#1a1a1a" stroke="#1a1a1a" stroke-width="0.15" textLength="51.8" lengthAdjust="spacingAndGlyphs">Integrated signal</text>
<path d="M41.4 218.6V384.1" stroke="#858585" stroke-width="1.3" fill="none"/>
<path d="M41.4 384.1H251.7" stroke="#707070" stroke-width="1.3" fill="none"/>
<path d="M41.4 384.1v-2.2M62.43 384.1v-2.2M83.46 384.1v-2.2M104.49 384.1v-2.2M125.52 384.1v-2.2M146.55 384.1v-2.2M167.58 384.1v-2.2M188.61 384.1v-2.2M209.64 384.1v-2.2M230.67 384.1v-2.2M251.7 384.1v-2.2M41.4 384.1h2.2M41.4 356.52h2.2M41.4 328.93h2.2M41.4 301.35h2.2M41.4 273.77h2.2M41.4 246.18h2.2M41.4 218.6h2.2" stroke="#555" stroke-width="1" fill="none"/>
<text transform="translate(41.4 394.5) scale(1.0 1)" text-anchor="middle" font-size="6.5" fill="#3a3a3a" stroke="#3a3a3a" stroke-width="0.12">0</text>
<text transform="translate(62.43 394.5) scale(1.0 1)" text-anchor="middle" font-size="6.5" fill="#3a3a3a" stroke="#3a3a3a" stroke-width="0.12">500</text>
<text transform="translate(83.46 394.5) scale(1.0 1)" text-anchor="middle" font-size="6.5" fill="#3a3a3a" stroke="#3a3a3a" stroke-width="0.12">1000</text>
<text transform="translate(104.49 394.5) scale(1.0 1)" text-anchor="middle" font-size="6.5" fill="#3a3a3a" stroke="#3a3a3a" stroke-width="0.12">1500</text>
<text transform="translate(125.52 394.5) scale(1.0 1)" text-anchor="middle" font-size="6.5" fill="#3a3a3a" stroke="#3a3a3a" stroke-width="0.12">2000</text>
<text transform="translate(146.55 394.5) scale(1.0 1)" text-anchor="middle" font-size="6.5" fill="#3a3a3a" stroke="#3a3a3a" stroke-width="0.12">2500</text>
<text transform="translate(167.58 394.5) scale(1.0 1)" text-anchor="middle" font-size="6.5" fill="#3a3a3a" stroke="#3a3a3a" stroke-width="0.12">3000</text>
<text transform="translate(188.61 394.5) scale(1.0 1)" text-anchor="middle" font-size="6.5" fill="#3a3a3a" stroke="#3a3a3a" stroke-width="0.12">3500</text>
<text transform="translate(209.64 394.5) scale(1.0 1)" text-anchor="middle" font-size="6.5" fill="#3a3a3a" stroke="#3a3a3a" stroke-width="0.12">4000</text>
<text transform="translate(230.67 394.5) scale(1.0 1)" text-anchor="middle" font-size="6.5" fill="#3a3a3a" stroke="#3a3a3a" stroke-width="0.12">4500</text>
<text transform="translate(251.7 394.5) scale(1.0 1)" text-anchor="middle" font-size="6.5" fill="#3a3a3a" stroke="#3a3a3a" stroke-width="0.12">5000</text>
<text transform="translate(38 386.94) scale(1.0 1)" text-anchor="end" font-size="6.5" fill="#3a3a3a" stroke="#3a3a3a" stroke-width="0.12">0</text>
<text transform="translate(38 359.36) scale(1.0 1)" text-anchor="end" font-size="6.5" fill="#3a3a3a" stroke="#3a3a3a" stroke-width="0.12">50</text>
<text transform="translate(38 331.77) scale(1.0 1)" text-anchor="end" font-size="6.5" fill="#3a3a3a" stroke="#3a3a3a" stroke-width="0.12">100</text>
<text transform="translate(38 304.19) scale(1.0 1)" text-anchor="end" font-size="6.5" fill="#3a3a3a" stroke="#3a3a3a" stroke-width="0.12">150</text>
<text transform="translate(38 276.61) scale(1.0 1)" text-anchor="end" font-size="6.5" fill="#3a3a3a" stroke="#3a3a3a" stroke-width="0.12">200</text>
<text transform="translate(38 249.02) scale(1.0 1)" text-anchor="end" font-size="6.5" fill="#3a3a3a" stroke="#3a3a3a" stroke-width="0.12">250</text>
<text transform="translate(38 221.44) scale(1.0 1)" text-anchor="end" font-size="6.5" fill="#3a3a3a" stroke="#3a3a3a" stroke-width="0.12">300</text>
<path d="M45.61,384.1 49.81,379.15 54.02,374.87 58.22,370.8 62.43,366.88 66.64,363.06 70.84,359.31 75.05,355.62 79.25,351.99 83.46,348.4 87.67,344.86 91.87,341.35 96.08,337.87 100.28,334.42 104.49,330.99 108.7,327.6 112.9,324.22 117.11,320.87 121.31,317.53 125.52,314.22 129.73,310.92 133.93,307.64 138.14,304.37 142.34,301.12 146.55,297.89 150.76,294.66 154.96,291.45 159.17,288.26 163.37,285.07 167.58,281.9 171.79,278.73 175.99,275.58 180.2,272.44 184.4,269.31 188.61,266.18 192.82,263.07 197.02,259.97 201.23,256.87 205.43,253.78 209.64,250.71 213.85,247.63 218.05,244.57 222.26,241.52 226.46,238.47 230.67,235.43 234.88,232.39" stroke="#2a3838" stroke-width="1.0" fill="none" stroke-linejoin="round" />
<path d="M43.71 382.2L47.51 386M43.71 386L47.51 382.2" stroke="#333" stroke-width="0.6"/>
<path d="M47.91 377.25L51.71 381.05M47.91 381.05L51.71 377.25" stroke="#333" stroke-width="0.6"/>
<path d="M52.12 372.97L55.92 376.77M52.12 376.77L55.92 372.97" stroke="#333" stroke-width="0.6"/>
<path d="M56.32 368.9L60.12 372.7M56.32 372.7L60.12 368.9" stroke="#333" stroke-width="0.6"/>
<path d="M60.53 364.98L64.33 368.78M60.53 368.78L64.33 364.98" stroke="#333" stroke-width="0.6"/>
<path d="M64.74 361.16L68.54 364.96M64.74 364.96L68.54 361.16" stroke="#333" stroke-width="0.6"/>
<path d="M68.94 357.41L72.74 361.21M68.94 361.21L72.74 357.41" stroke="#333" stroke-width="0.6"/>
<path d="M73.15 353.72L76.95 357.52M73.15 357.52L76.95 353.72" stroke="#333" stroke-width="0.6"/>
<path d="M77.35 350.09L81.15 353.89M77.35 353.89L81.15 350.09" stroke="#333" stroke-width="0.6"/>
<path d="M81.56 346.5L85.36 350.3M81.56 350.3L85.36 346.5" stroke="#333" stroke-width="0.6"/>
<path d="M85.77 342.96L89.57 346.76M85.77 346.76L89.57 342.96" stroke="#333" stroke-width="0.6"/>
<path d="M89.97 339.45L93.77 343.25M89.97 343.25L93.77 339.45" stroke="#333" stroke-width="0.6"/>
<path d="M94.18 335.97L97.98 339.77M94.18 339.77L97.98 335.97" stroke="#333" stroke-width="0.6"/>
<path d="M98.38 332.52L102.18 336.32M98.38 336.32L102.18 332.52" stroke="#333" stroke-width="0.6"/>
<path d="M102.59 329.09L106.39 332.89M102.59 332.89L106.39 329.09" stroke="#333" stroke-width="0.6"/>
<path d="M106.8 325.7L110.6 329.5M106.8 329.5L110.6 325.7" stroke="#333" stroke-width="0.6"/>
<path d="M111 322.32L114.8 326.12M111 326.12L114.8 322.32" stroke="#333" stroke-width="0.6"/>
<path d="M115.21 318.97L119.01 322.77M115.21 322.77L119.01 318.97" stroke="#333" stroke-width="0.6"/>
<path d="M119.41 315.63L123.21 319.43M119.41 319.43L123.21 315.63" stroke="#333" stroke-width="0.6"/>
<path d="M123.62 312.32L127.42 316.12M123.62 316.12L127.42 312.32" stroke="#333" stroke-width="0.6"/>
<path d="M127.83 309.02L131.63 312.82M127.83 312.82L131.63 309.02" stroke="#333" stroke-width="0.6"/>
<path d="M132.03 305.74L135.83 309.54M132.03 309.54L135.83 305.74" stroke="#333" stroke-width="0.6"/>
<path d="M136.24 302.47L140.04 306.27M136.24 306.27L140.04 302.47" stroke="#333" stroke-width="0.6"/>
<path d="M140.44 299.22L144.24 303.02M140.44 303.02L144.24 299.22" stroke="#333" stroke-width="0.6"/>
<path d="M144.65 295.99L148.45 299.79M144.65 299.79L148.45 295.99" stroke="#333" stroke-width="0.6"/>
<path d="M148.86 292.76L152.66 296.56M148.86 296.56L152.66 292.76" stroke="#333" stroke-width="0.6"/>
<path d="M153.06 289.55L156.86 293.35M153.06 293.35L156.86 289.55" stroke="#333" stroke-width="0.6"/>
<path d="M157.27 286.36L161.07 290.16M157.27 290.16L161.07 286.36" stroke="#333" stroke-width="0.6"/>
<path d="M161.47 283.17L165.27 286.97M161.47 286.97L165.27 283.17" stroke="#333" stroke-width="0.6"/>
<path d="M165.68 280L169.48 283.8M165.68 283.8L169.48 280" stroke="#333" stroke-width="0.6"/>
<path d="M169.89 276.83L173.69 280.63M169.89 280.63L173.69 276.83" stroke="#333" stroke-width="0.6"/>
<path d="M174.09 273.68L177.89 277.48M174.09 277.48L177.89 273.68" stroke="#333" stroke-width="0.6"/>
<path d="M178.3 270.54L182.1 274.34M178.3 274.34L182.1 270.54" stroke="#333" stroke-width="0.6"/>
<path d="M182.5 267.41L186.3 271.21M182.5 271.21L186.3 267.41" stroke="#333" stroke-width="0.6"/>
<path d="M186.71 264.28L190.51 268.08M186.71 268.08L190.51 264.28" stroke="#333" stroke-width="0.6"/>
<path d="M190.92 261.17L194.72 264.97M190.92 264.97L194.72 261.17" stroke="#333" stroke-width="0.6"/>
<path d="M195.12 258.07L198.92 261.87M195.12 261.87L198.92 258.07" stroke="#333" stroke-width="0.6"/>
<path d="M199.33 254.97L203.13 258.77M199.33 258.77L203.13 254.97" stroke="#333" stroke-width="0.6"/>
<path d="M203.53 251.88L207.33 255.68M203.53 255.68L207.33 251.88" stroke="#333" stroke-width="0.6"/>
<path d="M207.74 248.81L211.54 252.61M207.74 252.61L211.54 248.81" stroke="#333" stroke-width="0.6"/>
<path d="M211.95 245.73L215.75 249.53M211.95 249.53L215.75 245.73" stroke="#333" stroke-width="0.6"/>
<path d="M216.15 242.67L219.95 246.47M216.15 246.47L219.95 242.67" stroke="#333" stroke-width="0.6"/>
<path d="M220.36 239.62L224.16 243.42M220.36 243.42L224.16 239.62" stroke="#333" stroke-width="0.6"/>
<path d="M224.56 236.57L228.36 240.37M224.56 240.37L228.36 236.57" stroke="#333" stroke-width="0.6"/>
<path d="M228.77 233.53L232.57 237.33M228.77 237.33L232.57 233.53" stroke="#333" stroke-width="0.6"/>
<path d="M232.98 230.49L236.78 234.29M232.98 234.29L236.78 230.49" stroke="#333" stroke-width="0.6"/>
<path d="M310.9 215V381" stroke="#b0b0b0" stroke-width="1.3" fill="none"/>
<path d="M310.9 381H522" stroke="#707070" stroke-width="1.3" fill="none"/>
<path d="M310.9 381v-2.2M334.36 381v-2.2M357.81 381v-2.2M381.27 381v-2.2M404.72 381v-2.2M428.18 381v-2.2M451.63 381v-2.2M475.09 381v-2.2M498.54 381v-2.2M522 381v-2.2M310.9 381h2.2M310.9 353.33h2.2M310.9 325.67h2.2M310.9 298h2.2M310.9 270.33h2.2M310.9 242.67h2.2M310.9 215h2.2" stroke="#555" stroke-width="1" fill="none"/>
<text transform="translate(310.9 390.9) scale(1.0 1)" text-anchor="middle" font-size="6.5" fill="#3a3a3a" stroke="#3a3a3a" stroke-width="0.12">0</text>
<text transform="translate(334.36 390.9) scale(1.0 1)" text-anchor="middle" font-size="6.5" fill="#3a3a3a" stroke="#3a3a3a" stroke-width="0.12">500</text>
<text transform="translate(357.81 390.9) scale(1.0 1)" text-anchor="middle" font-size="6.5" fill="#3a3a3a" stroke="#3a3a3a" stroke-width="0.12">1000</text>
<text transform="translate(381.27 390.9) scale(1.0 1)" text-anchor="middle" font-size="6.5" fill="#3a3a3a" stroke="#3a3a3a" stroke-width="0.12">1500</text>
<text transform="translate(404.72 390.9) scale(1.0 1)" text-anchor="middle" font-size="6.5" fill="#3a3a3a" stroke="#3a3a3a" stroke-width="0.12">2000</text>
<text transform="translate(428.18 390.9) scale(1.0 1)" text-anchor="middle" font-size="6.5" fill="#3a3a3a" stroke="#3a3a3a" stroke-width="0.12">2500</text>
<text transform="translate(451.63 390.9) scale(1.0 1)" text-anchor="middle" font-size="6.5" fill="#3a3a3a" stroke="#3a3a3a" stroke-width="0.12">3000</text>
<text transform="translate(475.09 390.9) scale(1.0 1)" text-anchor="middle" font-size="6.5" fill="#3a3a3a" stroke="#3a3a3a" stroke-width="0.12">3500</text>
<text transform="translate(498.54 390.9) scale(1.0 1)" text-anchor="middle" font-size="6.5" fill="#3a3a3a" stroke="#3a3a3a" stroke-width="0.12">4000</text>
<text transform="translate(522 390.9) scale(1.0 1)" text-anchor="middle" font-size="6.5" fill="#3a3a3a" stroke="#3a3a3a" stroke-width="0.12">4500</text>
<text transform="translate(307.9 384.84) scale(1.0 1)" text-anchor="end" font-size="6.5" fill="#3a3a3a" stroke="#3a3a3a" stroke-width="0.12">0</text>
<text transform="translate(307.9 357.17) scale(1.0 1)" text-anchor="end" font-size="6.5" fill="#3a3a3a" stroke="#3a3a3a" stroke-width="0.12">5</text>
<text transform="translate(307.9 329.51) scale(1.0 1)" text-anchor="end" font-size="6.5" fill="#3a3a3a" stroke="#3a3a3a" stroke-width="0.12">10</text>
<text transform="translate(307.9 301.84) scale(1.0 1)" text-anchor="end" font-size="6.5" fill="#3a3a3a" stroke="#3a3a3a" stroke-width="0.12">15</text>
<text transform="translate(307.9 274.17) scale(1.0 1)" text-anchor="end" font-size="6.5" fill="#3a3a3a" stroke="#3a3a3a" stroke-width="0.12">20</text>
<text transform="translate(307.9 246.51) scale(1.0 1)" text-anchor="end" font-size="6.5" fill="#3a3a3a" stroke="#3a3a3a" stroke-width="0.12">25</text>
<text transform="translate(307.9 218.84) scale(1.0 1)" text-anchor="end" font-size="6.5" fill="#3a3a3a" stroke="#3a3a3a" stroke-width="0.12">30</text>
<path d="M310.9,374.91 315.59,236.58 320.28,216.94 324.97,215 329.66,231.6 334.36,244.88 339.05,253.18 343.74,243.77 348.43,254.84 353.12,241.56 357.81,248.2 362.5,268.67 367.19,278.08 371.88,289.7 376.58,285.83 381.27,295.23 385.96,299.11 390.65,302.98 395.34,305.19 400.03,308.51 404.72,310.73 409.41,312.39 414.1,315.71 418.8,318.47 423.49,320.13 428.18,322.9 432.87,326.22 437.56,328.43 442.25,329.54 446.94,333.41 451.63,335.07 456.32,336.18 461.02,337.29 465.71,338.95 470.4,337.84 475.09,339.5 479.78,338.95 484.47,337.84 489.16,337.84 493.85,337.84 498.54,340.05 503.24,342.27 507.93,343.65 512.62,344.48 517.31,345.31 522,346.14" stroke="#111" stroke-width="1.2" fill="none" stroke-linejoin="round" />
<path d="M309 373.01L312.8 376.81M309 376.81L312.8 373.01" stroke="#444" stroke-width="0.6"/>
<path d="M313.69 234.68L317.49 238.48M313.69 238.48L317.49 234.68" stroke="#444" stroke-width="0.6"/>
<path d="M318.38 215.04L322.18 218.84M318.38 218.84L322.18 215.04" stroke="#444" stroke-width="0.6"/>
<path d="M323.07 213.1L326.87 216.9M323.07 216.9L326.87 213.1" stroke="#444" stroke-width="0.6"/>
<path d="M327.76 229.7L331.56 233.5M327.76 233.5L331.56 229.7" stroke="#444" stroke-width="0.6"/>
<path d="M332.46 242.98L336.26 246.78M332.46 246.78L336.26 242.98" stroke="#444" stroke-width="0.6"/>
<path d="M337.15 251.28L340.95 255.08M337.15 255.08L340.95 251.28" stroke="#444" stroke-width="0.6"/>
<path d="M341.84 241.87L345.64 245.67M341.84 245.67L345.64 241.87" stroke="#444" stroke-width="0.6"/>
<path d="M346.53 252.94L350.33 256.74M346.53 256.74L350.33 252.94" stroke="#444" stroke-width="0.6"/>
<path d="M351.22 239.66L355.02 243.46M351.22 243.46L355.02 239.66" stroke="#444" stroke-width="0.6"/>
<path d="M355.91 246.3L359.71 250.1M355.91 250.1L359.71 246.3" stroke="#444" stroke-width="0.6"/>
<path d="M360.6 266.77L364.4 270.57M360.6 270.57L364.4 266.77" stroke="#444" stroke-width="0.6"/>
<path d="M365.29 276.18L369.09 279.98M365.29 279.98L369.09 276.18" stroke="#444" stroke-width="0.6"/>
<path d="M369.98 287.8L373.78 291.6M369.98 291.6L373.78 287.8" stroke="#444" stroke-width="0.6"/>
<path d="M374.68 283.93L378.48 287.73M374.68 287.73L378.48 283.93" stroke="#444" stroke-width="0.6"/>
<path d="M379.37 293.33L383.17 297.13M379.37 297.13L383.17 293.33" stroke="#444" stroke-width="0.6"/>
<path d="M384.06 297.21L387.86 301.01M384.06 301.01L387.86 297.21" stroke="#444" stroke-width="0.6"/>
<path d="M388.75 301.08L392.55 304.88M388.75 304.88L392.55 301.08" stroke="#444" stroke-width="0.6"/>
<path d="M393.44 303.29L397.24 307.09M393.44 307.09L397.24 303.29" stroke="#444" stroke-width="0.6"/>
<path d="M398.13 306.61L401.93 310.41M398.13 310.41L401.93 306.61" stroke="#444" stroke-width="0.6"/>
<path d="M402.82 308.83L406.62 312.63M402.82 312.63L406.62 308.83" stroke="#444" stroke-width="0.6"/>
<path d="M407.51 310.49L411.31 314.29M407.51 314.29L411.31 310.49" stroke="#444" stroke-width="0.6"/>
<path d="M412.2 313.81L416 317.61M412.2 317.61L416 313.81" stroke="#444" stroke-width="0.6"/>
<path d="M416.9 316.57L420.7 320.37M416.9 320.37L420.7 316.57" stroke="#444" stroke-width="0.6"/>
<path d="M421.59 318.23L425.39 322.03M421.59 322.03L425.39 318.23" stroke="#444" stroke-width="0.6"/>
<path d="M426.28 321L430.08 324.8M426.28 324.8L430.08 321" stroke="#444" stroke-width="0.6"/>
<path d="M430.97 324.32L434.77 328.12M430.97 328.12L434.77 324.32" stroke="#444" stroke-width="0.6"/>
<path d="M435.66 326.53L439.46 330.33M435.66 330.33L439.46 326.53" stroke="#444" stroke-width="0.6"/>
<path d="M440.35 327.64L444.15 331.44M440.35 331.44L444.15 327.64" stroke="#444" stroke-width="0.6"/>
<path d="M445.04 331.51L448.84 335.31M445.04 335.31L448.84 331.51" stroke="#444" stroke-width="0.6"/>
<path d="M449.73 333.17L453.53 336.97M449.73 336.97L453.53 333.17" stroke="#444" stroke-width="0.6"/>
<path d="M454.42 334.28L458.22 338.08M454.42 338.08L458.22 334.28" stroke="#444" stroke-width="0.6"/>
<path d="M459.12 335.39L462.92 339.19M459.12 339.19L462.92 335.39" stroke="#444" stroke-width="0.6"/>
<path d="M463.81 337.05L467.61 340.85M463.81 340.85L467.61 337.05" stroke="#444" stroke-width="0.6"/>
<path d="M468.5 335.94L472.3 339.74M468.5 339.74L472.3 335.94" stroke="#444" stroke-width="0.6"/>
<path d="M473.19 337.6L476.99 341.4M473.19 341.4L476.99 337.6" stroke="#444" stroke-width="0.6"/>
<path d="M477.88 337.05L481.68 340.85M477.88 340.85L481.68 337.05" stroke="#444" stroke-width="0.6"/>
<path d="M482.57 335.94L486.37 339.74M482.57 339.74L486.37 335.94" stroke="#444" stroke-width="0.6"/>
<path d="M487.26 335.94L491.06 339.74M487.26 339.74L491.06 335.94" stroke="#444" stroke-width="0.6"/>
<path d="M491.95 335.94L495.75 339.74M491.95 339.74L495.75 335.94" stroke="#444" stroke-width="0.6"/>
<path d="M496.64 338.15L500.44 341.95M496.64 341.95L500.44 338.15" stroke="#444" stroke-width="0.6"/>
<path d="M501.34 340.37L505.14 344.17M501.34 344.17L505.14 340.37" stroke="#444" stroke-width="0.6"/>
<path d="M506.03 341.75L509.83 345.55M506.03 345.55L509.83 341.75" stroke="#444" stroke-width="0.6"/>
<path d="M510.72 342.58L514.52 346.38M510.72 346.38L514.52 342.58" stroke="#444" stroke-width="0.6"/>
<path d="M515.41 343.41L519.21 347.21M515.41 347.21L519.21 343.41" stroke="#444" stroke-width="0.6"/>
<path d="M520.1 344.24L523.9 348.04M520.1 348.04L523.9 344.24" stroke="#444" stroke-width="0.6"/>
<text x="0.34" y="14.6" font-size="16" font-weight="normal" text-anchor="start" fill="#000" stroke="#000" stroke-width="0.35" textLength="7.12" lengthAdjust="spacingAndGlyphs">a</text>
<text x="8.9" y="14.6" font-size="16" font-weight="normal" text-anchor="start" fill="#000" stroke="#000" stroke-width="0.35" textLength="4.3" lengthAdjust="spacingAndGlyphs">)</text>
<text x="268.97" y="12.75" font-size="16" font-weight="normal" text-anchor="start" fill="#000" stroke="#000" stroke-width="0.35" textLength="8.28" lengthAdjust="spacingAndGlyphs">b</text>
<text x="278" y="12.75" font-size="16" font-weight="normal" text-anchor="start" fill="#000" stroke="#000" stroke-width="0.35" textLength="4.8" lengthAdjust="spacingAndGlyphs">)</text>
<text x="9.49" y="228.9" font-size="16" font-weight="normal" text-anchor="start" fill="#000" stroke="#000" stroke-width="0.35" textLength="6.96" lengthAdjust="spacingAndGlyphs">c</text>
<text x="17.2" y="228.9" font-size="16" font-weight="normal" text-anchor="start" fill="#000" stroke="#000" stroke-width="0.35" textLength="4.2" lengthAdjust="spacingAndGlyphs">)</text>
<text x="264.75" y="228.9" font-size="16" font-weight="normal" text-anchor="start" fill="#000" stroke="#000" stroke-width="0.35" textLength="8.28" lengthAdjust="spacingAndGlyphs">d</text>
<text x="273.9" y="228.9" font-size="16" font-weight="normal" text-anchor="start" fill="#000" stroke="#000" stroke-width="0.35" textLength="5.2" lengthAdjust="spacingAndGlyphs">)</text>
<text x="115.5" y="200.8" font-size="11" font-weight="bold" fill="#111" stroke="#111" stroke-width="0.05" textLength="49" lengthAdjust="spacingAndGlyphs">Time (ps)</text>
<text x="390.0" y="200.8" font-size="11" font-weight="bold" fill="#111" stroke="#111" stroke-width="0.05" textLength="48.3" lengthAdjust="spacingAndGlyphs">Time (ps)</text>
<text x="115.5" y="415.3" font-size="11" font-weight="bold" fill="#111" stroke="#111" stroke-width="0.05" textLength="49" lengthAdjust="spacingAndGlyphs">Time (ps)</text>
<text x="389.7" y="415.3" font-size="11" font-weight="bold" fill="#111" stroke="#111" stroke-width="0.05" textLength="48.1" lengthAdjust="spacingAndGlyphs">Time (ps)</text>
<text x="21.8" y="145.8" font-size="11" font-weight="bold" fill="#111" stroke="#111" stroke-width="0.05" textLength="116.6" lengthAdjust="spacingAndGlyphs" transform="rotate(-90 21.8 145.8)">Normalised Count (N)</text>
<text x="281.7" y="151.2" font-size="11" font-weight="bold" fill="#111" stroke="#111" stroke-width="0.05" textLength="116.2" lengthAdjust="spacingAndGlyphs" transform="rotate(-90 281.7 151.2)">Normalised Count (N)</text>
<text x="12.9" y="348.2" font-size="11" font-weight="bold" fill="#111" stroke="#111" stroke-width="0.05" textLength="85.0" lengthAdjust="spacingAndGlyphs" transform="rotate(-90 12.9 348.2)">Mean Count (N)</text>
<text x="289.3" y="303.6" font-size="11" font-weight="bold" fill="#111" stroke="#111" stroke-width="0.05" textLength="22.7" lengthAdjust="spacingAndGlyphs" transform="rotate(-90 289.3 303.6)">SNR</text></svg>
</body></html>
